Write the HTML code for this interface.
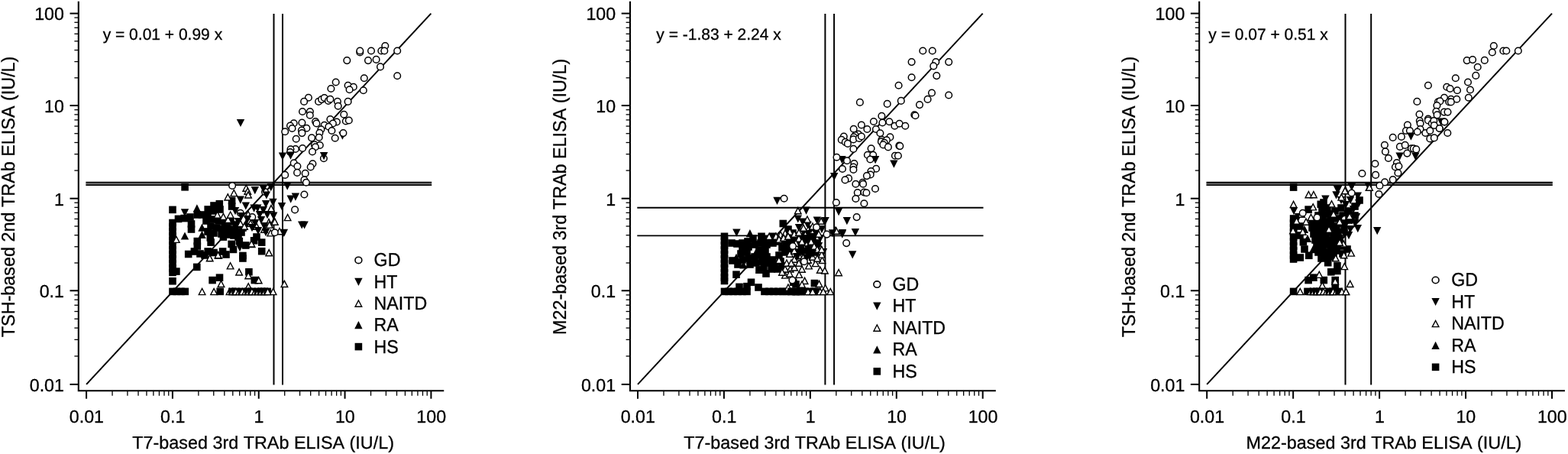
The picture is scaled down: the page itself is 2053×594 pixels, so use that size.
<!DOCTYPE html>
<html lang="en"><head><meta charset="utf-8"><title>TRAb ELISA comparison</title>
<style>
html,body{margin:0;padding:0;background:#fff;}
body{width:2053px;height:594px;overflow:hidden;}
svg{display:block;font-family:"Liberation Sans", sans-serif;fill:#000;font-kerning:none;text-rendering:geometricPrecision;}
text{stroke:#000;stroke-width:0.3px;}
</style></head><body>
<svg width="2053" height="594" viewBox="0 0 2053 594">
<rect width="2053" height="594" fill="#fff"/>
<g id="panel1">
<line x1="112.40" y1="240.35" x2="565.20" y2="240.35" stroke="#777" stroke-width="2.2" />
<line x1="112.40" y1="238.60" x2="565.20" y2="238.60" stroke="#000" stroke-width="1.9" />
<line x1="112.40" y1="242.10" x2="565.20" y2="242.10" stroke="#000" stroke-width="1.9" />
<line x1="358.50" y1="18.00" x2="358.50" y2="503.60" stroke="#000" stroke-width="2.0" />
<line x1="370.00" y1="18.00" x2="370.00" y2="503.60" stroke="#000" stroke-width="2.0" />
<line x1="113.10" y1="502.90" x2="564.40" y2="17.60" stroke="#000" stroke-width="2.0" />
<rect x="221.2" y="269.6" width="9.6" height="9.6" fill="#000"/>
<rect x="221.2" y="286.7" width="9.6" height="9.6" fill="#000"/>
<rect x="221.2" y="292.2" width="9.6" height="9.6" fill="#000"/>
<rect x="221.2" y="298.2" width="9.6" height="9.6" fill="#000"/>
<rect x="221.2" y="304.2" width="9.6" height="9.6" fill="#000"/>
<rect x="221.2" y="310.2" width="9.6" height="9.6" fill="#000"/>
<rect x="221.2" y="316.2" width="9.6" height="9.6" fill="#000"/>
<rect x="221.2" y="322.2" width="9.6" height="9.6" fill="#000"/>
<rect x="221.2" y="328.2" width="9.6" height="9.6" fill="#000"/>
<rect x="221.2" y="334.2" width="9.6" height="9.6" fill="#000"/>
<rect x="221.2" y="340.2" width="9.6" height="9.6" fill="#000"/>
<rect x="221.2" y="346.2" width="9.6" height="9.6" fill="#000"/>
<rect x="221.2" y="351.7" width="9.6" height="9.6" fill="#000"/>
<rect x="221.2" y="363.0" width="9.6" height="9.6" fill="#000"/>
<rect x="221.2" y="376.6" width="9.6" height="9.6" fill="#000"/>
<rect x="226.7" y="376.6" width="9.6" height="9.6" fill="#000"/>
<rect x="232.1" y="376.6" width="9.6" height="9.6" fill="#000"/>
<rect x="237.5" y="376.6" width="9.6" height="9.6" fill="#000"/>
<rect x="226.1" y="350.3" width="9.6" height="9.6" fill="#000"/>
<rect x="237.3" y="240.0" width="9.6" height="9.6" fill="#000"/>
<rect x="267.4" y="269.2" width="9.6" height="9.6" fill="#000"/>
<rect x="275.2" y="264.2" width="9.6" height="9.6" fill="#000"/>
<rect x="282.5" y="261.9" width="9.6" height="9.6" fill="#000"/>
<rect x="298.8" y="257.6" width="9.6" height="9.6" fill="#000"/>
<rect x="298.8" y="265.2" width="9.6" height="9.6" fill="#000"/>
<rect x="275.2" y="271.2" width="9.6" height="9.6" fill="#000"/>
<rect x="283.2" y="269.2" width="9.6" height="9.6" fill="#000"/>
<rect x="228.7" y="281.6" width="9.6" height="9.6" fill="#000"/>
<rect x="236.4" y="280.8" width="9.6" height="9.6" fill="#000"/>
<rect x="244.2" y="279.2" width="9.6" height="9.6" fill="#000"/>
<rect x="253.5" y="276.2" width="9.6" height="9.6" fill="#000"/>
<rect x="259.7" y="276.2" width="9.6" height="9.6" fill="#000"/>
<rect x="267.2" y="277.2" width="9.6" height="9.6" fill="#000"/>
<rect x="265.2" y="284.2" width="9.6" height="9.6" fill="#000"/>
<rect x="273.2" y="282.2" width="9.6" height="9.6" fill="#000"/>
<rect x="281.2" y="284.2" width="9.6" height="9.6" fill="#000"/>
<rect x="289.2" y="287.2" width="9.6" height="9.6" fill="#000"/>
<rect x="297.2" y="285.2" width="9.6" height="9.6" fill="#000"/>
<rect x="305.2" y="289.2" width="9.6" height="9.6" fill="#000"/>
<rect x="313.2" y="293.2" width="9.6" height="9.6" fill="#000"/>
<rect x="271.2" y="291.2" width="9.6" height="9.6" fill="#000"/>
<rect x="279.2" y="293.2" width="9.6" height="9.6" fill="#000"/>
<rect x="287.2" y="295.2" width="9.6" height="9.6" fill="#000"/>
<rect x="295.2" y="295.2" width="9.6" height="9.6" fill="#000"/>
<rect x="303.2" y="297.2" width="9.6" height="9.6" fill="#000"/>
<rect x="311.2" y="299.2" width="9.6" height="9.6" fill="#000"/>
<rect x="267.2" y="298.2" width="9.6" height="9.6" fill="#000"/>
<rect x="275.2" y="300.2" width="9.6" height="9.6" fill="#000"/>
<rect x="285.2" y="301.2" width="9.6" height="9.6" fill="#000"/>
<rect x="293.2" y="302.2" width="9.6" height="9.6" fill="#000"/>
<rect x="301.2" y="303.2" width="9.6" height="9.6" fill="#000"/>
<rect x="307.2" y="305.2" width="9.6" height="9.6" fill="#000"/>
<rect x="245.7" y="288.2" width="9.6" height="9.6" fill="#000"/>
<rect x="245.7" y="295.2" width="9.6" height="9.6" fill="#000"/>
<rect x="253.5" y="310.8" width="9.6" height="9.6" fill="#000"/>
<rect x="253.5" y="317.2" width="9.6" height="9.6" fill="#000"/>
<rect x="270.5" y="306.1" width="9.6" height="9.6" fill="#000"/>
<rect x="271.3" y="312.3" width="9.6" height="9.6" fill="#000"/>
<rect x="287.6" y="305.3" width="9.6" height="9.6" fill="#000"/>
<rect x="298.4" y="314.6" width="9.6" height="9.6" fill="#000"/>
<rect x="308.5" y="310.8" width="9.6" height="9.6" fill="#000"/>
<rect x="300.7" y="321.6" width="9.6" height="9.6" fill="#000"/>
<rect x="317.0" y="316.2" width="9.6" height="9.6" fill="#000"/>
<rect x="327.8" y="310.0" width="9.6" height="9.6" fill="#000"/>
<rect x="337.9" y="312.3" width="9.6" height="9.6" fill="#000"/>
<rect x="331.2" y="305.2" width="9.6" height="9.6" fill="#000"/>
<rect x="337.9" y="323.9" width="9.6" height="9.6" fill="#000"/>
<rect x="313.1" y="329.7" width="9.6" height="9.6" fill="#000"/>
<rect x="313.1" y="333.2" width="9.6" height="9.6" fill="#000"/>
<rect x="241.9" y="327.7" width="9.6" height="9.6" fill="#000"/>
<rect x="249.6" y="324.2" width="9.6" height="9.6" fill="#000"/>
<rect x="257.2" y="327.2" width="9.6" height="9.6" fill="#000"/>
<rect x="263.2" y="329.2" width="9.6" height="9.6" fill="#000"/>
<rect x="267.4" y="324.2" width="9.6" height="9.6" fill="#000"/>
<rect x="275.2" y="325.7" width="9.6" height="9.6" fill="#000"/>
<rect x="286.8" y="324.2" width="9.6" height="9.6" fill="#000"/>
<rect x="291.2" y="328.2" width="9.6" height="9.6" fill="#000"/>
<rect x="253.0" y="344.6" width="9.6" height="9.6" fill="#000"/>
<rect x="273.3" y="361.8" width="9.6" height="9.6" fill="#000"/>
<rect x="282.7" y="358.4" width="9.6" height="9.6" fill="#000"/>
<rect x="321.1" y="351.0" width="9.6" height="9.6" fill="#000"/>
<rect x="328.5" y="361.8" width="9.6" height="9.6" fill="#000"/>
<rect x="283.4" y="376.6" width="9.6" height="9.6" fill="#000"/>
<path d="M252.7 277.5h10.4l-5.2 -10.2z" fill="#000"/>
<path d="M236.8 313.6h10.4l-5.2 -10.2z" fill="#000"/>
<path d="M259.3 302.7h10.4l-5.2 -10.2z" fill="#000"/>
<path d="M259.3 312.0h10.4l-5.2 -10.2z" fill="#000"/>
<path d="M294.8 301.0h10.4l-5.2 -10.2z" fill="#000"/>
<path d="M316.8 297.0h10.4l-5.2 -10.2z" fill="#000"/>
<path d="M302.0 256.6h8.6l-4.3 -8.2z" fill="#fff" stroke="#000" stroke-width="1.4"/>
<path d="M294.0 262.0h8.6l-4.3 -8.2z" fill="#fff" stroke="#000" stroke-width="1.4"/>
<path d="M318.0 250.2h8.6l-4.3 -8.2z" fill="#fff" stroke="#000" stroke-width="1.4"/>
<path d="M320.0 254.2h8.6l-4.3 -8.2z" fill="#fff" stroke="#000" stroke-width="1.4"/>
<path d="M320.7 259.0h8.6l-4.3 -8.2z" fill="#fff" stroke="#000" stroke-width="1.4"/>
<path d="M350.7 276.8h8.6l-4.3 -8.2z" fill="#fff" stroke="#000" stroke-width="1.4"/>
<path d="M354.7 293.0h8.6l-4.3 -8.2z" fill="#fff" stroke="#000" stroke-width="1.4"/>
<path d="M347.7 294.7h8.6l-4.3 -8.2z" fill="#fff" stroke="#000" stroke-width="1.4"/>
<path d="M372.3 288.6h8.6l-4.3 -8.2z" fill="#fff" stroke="#000" stroke-width="1.4"/>
<path d="M280.3 285.2h8.6l-4.3 -8.2z" fill="#fff" stroke="#000" stroke-width="1.4"/>
<path d="M288.1 287.5h8.6l-4.3 -8.2z" fill="#fff" stroke="#000" stroke-width="1.4"/>
<path d="M294.3 291.4h8.6l-4.3 -8.2z" fill="#fff" stroke="#000" stroke-width="1.4"/>
<path d="M297.4 285.2h8.6l-4.3 -8.2z" fill="#fff" stroke="#000" stroke-width="1.4"/>
<path d="M320.6 284.4h8.6l-4.3 -8.2z" fill="#fff" stroke="#000" stroke-width="1.4"/>
<path d="M310.5 296.5h8.6l-4.3 -8.2z" fill="#fff" stroke="#000" stroke-width="1.4"/>
<path d="M348.5 298.1h8.6l-4.3 -8.2z" fill="#fff" stroke="#000" stroke-width="1.4"/>
<path d="M355.5 294.2h8.6l-4.3 -8.2z" fill="#fff" stroke="#000" stroke-width="1.4"/>
<path d="M361.7 306.7h8.6l-4.3 -8.2z" fill="#fff" stroke="#000" stroke-width="1.4"/>
<path d="M350.0 308.9h8.6l-4.3 -8.2z" fill="#fff" stroke="#000" stroke-width="1.4"/>
<path d="M226.5 317.4h8.6l-4.3 -8.2z" fill="#fff" stroke="#000" stroke-width="1.4"/>
<path d="M325.2 323.6h8.6l-4.3 -8.2z" fill="#fff" stroke="#000" stroke-width="1.4"/>
<path d="M281.9 338.4h8.6l-4.3 -8.2z" fill="#fff" stroke="#000" stroke-width="1.4"/>
<path d="M260.3 385.6h8.6l-4.3 -8.2z" fill="#fff" stroke="#000" stroke-width="1.4"/>
<path d="M275.8 385.6h8.6l-4.3 -8.2z" fill="#fff" stroke="#000" stroke-width="1.4"/>
<path d="M353.3 385.6h8.6l-4.3 -8.2z" fill="#fff" stroke="#000" stroke-width="1.4"/>
<path d="M368.1 375.5h8.6l-4.3 -8.2z" fill="#fff" stroke="#000" stroke-width="1.4"/>
<path d="M320.9 378.9h8.6l-4.3 -8.2z" fill="#fff" stroke="#000" stroke-width="1.4"/>
<path d="M285.2 375.5h8.6l-4.3 -8.2z" fill="#fff" stroke="#000" stroke-width="1.4"/>
<path d="M320.9 364.7h8.6l-4.3 -8.2z" fill="#fff" stroke="#000" stroke-width="1.4"/>
<path d="M334.4 370.8h8.6l-4.3 -8.2z" fill="#fff" stroke="#000" stroke-width="1.4"/>
<path d="M308.8 360.0h8.6l-4.3 -8.2z" fill="#fff" stroke="#000" stroke-width="1.4"/>
<path d="M297.3 351.9h8.6l-4.3 -8.2z" fill="#fff" stroke="#000" stroke-width="1.4"/>
<path d="M347.9 334.8h8.6l-4.3 -8.2z" fill="#fff" stroke="#000" stroke-width="1.4"/>
<path d="M270.4 341.8h8.6l-4.3 -8.2z" fill="#fff" stroke="#000" stroke-width="1.4"/>
<path d="M281.2 337.8h8.6l-4.3 -8.2z" fill="#fff" stroke="#000" stroke-width="1.4"/>
<path d="M325.0 323.0h8.6l-4.3 -8.2z" fill="#fff" stroke="#000" stroke-width="1.4"/>
<path d="M315.7 300.2h8.6l-4.3 -8.2z" fill="#fff" stroke="#000" stroke-width="1.4"/>
<path d="M323.7 296.2h8.6l-4.3 -8.2z" fill="#fff" stroke="#000" stroke-width="1.4"/>
<path d="M331.7 300.2h8.6l-4.3 -8.2z" fill="#fff" stroke="#000" stroke-width="1.4"/>
<path d="M341.7 304.2h8.6l-4.3 -8.2z" fill="#fff" stroke="#000" stroke-width="1.4"/>
<circle cx="314.8" cy="278.7" r="4.3" fill="#fff" stroke="#000" stroke-width="1.5"/>
<circle cx="330.3" cy="284.1" r="4.3" fill="#fff" stroke="#000" stroke-width="1.5"/>
<circle cx="347.0" cy="251.0" r="4.3" fill="#fff" stroke="#000" stroke-width="1.5"/>
<path d="M328.6 244.0h10.4l-5.2 10.2z" fill="#000"/>
<path d="M339.6 242.0h10.4l-5.2 10.2z" fill="#000"/>
<path d="M349.6 240.0h10.4l-5.2 10.2z" fill="#000"/>
<path d="M343.7 250.4h10.4l-5.2 10.2z" fill="#000"/>
<path d="M352.2 259.7h10.4l-5.2 10.2z" fill="#000"/>
<path d="M342.9 262.0h10.4l-5.2 10.2z" fill="#000"/>
<path d="M363.8 265.1h10.4l-5.2 10.2z" fill="#000"/>
<path d="M353.0 277.5h10.4l-5.2 10.2z" fill="#000"/>
<path d="M236.8 273.3h10.4l-5.2 10.2z" fill="#000"/>
<path d="M309.6 256.6h10.4l-5.2 10.2z" fill="#000"/>
<path d="M316.6 264.4h10.4l-5.2 10.2z" fill="#000"/>
<path d="M327.4 267.5h10.4l-5.2 10.2z" fill="#000"/>
<path d="M332.1 267.5h10.4l-5.2 10.2z" fill="#000"/>
<path d="M339.6 270.0h10.4l-5.2 10.2z" fill="#000"/>
<path d="M334.8 276.0h10.4l-5.2 10.2z" fill="#000"/>
<path d="M366.7 299.7h10.4l-5.2 10.2z" fill="#000"/>
<path d="M308.8 319.0h10.4l-5.2 10.2z" fill="#000"/>
<path d="M302.8 271.0h10.4l-5.2 10.2z" fill="#000"/>
<path d="M310.8 278.0h10.4l-5.2 10.2z" fill="#000"/>
<path d="M318.8 282.0h10.4l-5.2 10.2z" fill="#000"/>
<path d="M328.8 287.0h10.4l-5.2 10.2z" fill="#000"/>
<path d="M336.8 283.0h10.4l-5.2 10.2z" fill="#000"/>
<path d="M344.8 276.0h10.4l-5.2 10.2z" fill="#000"/>
<path d="M340.8 291.0h10.4l-5.2 10.2z" fill="#000"/>
<path d="M324.8 293.0h10.4l-5.2 10.2z" fill="#000"/>
<path d="M332.8 297.0h10.4l-5.2 10.2z" fill="#000"/>
<path d="M342.8 299.0h10.4l-5.2 10.2z" fill="#000"/>
<path d="M306.8 285.0h10.4l-5.2 10.2z" fill="#000"/>
<circle cx="304.1" cy="243.0" r="4.3" fill="#fff" stroke="#000" stroke-width="1.5"/>
<circle cx="359.8" cy="304.3" r="4.3" fill="#fff" stroke="#000" stroke-width="1.5"/>
<circle cx="504.3" cy="60.0" r="4.3" fill="#fff" stroke="#000" stroke-width="1.5"/>
<circle cx="471.3" cy="68.5" r="4.3" fill="#fff" stroke="#000" stroke-width="1.5"/>
<circle cx="471.3" cy="66.5" r="4.3" fill="#fff" stroke="#000" stroke-width="1.5"/>
<circle cx="486.0" cy="66.5" r="4.3" fill="#fff" stroke="#000" stroke-width="1.5"/>
<circle cx="499.3" cy="66.5" r="4.3" fill="#fff" stroke="#000" stroke-width="1.5"/>
<circle cx="503.3" cy="66.5" r="4.3" fill="#fff" stroke="#000" stroke-width="1.5"/>
<circle cx="520.2" cy="66.5" r="4.3" fill="#fff" stroke="#000" stroke-width="1.5"/>
<circle cx="454.3" cy="79.1" r="4.3" fill="#fff" stroke="#000" stroke-width="1.5"/>
<circle cx="482.0" cy="79.1" r="4.3" fill="#fff" stroke="#000" stroke-width="1.5"/>
<circle cx="492.6" cy="77.9" r="4.3" fill="#fff" stroke="#000" stroke-width="1.5"/>
<circle cx="498.0" cy="87.4" r="4.3" fill="#fff" stroke="#000" stroke-width="1.5"/>
<circle cx="520.2" cy="99.2" r="4.3" fill="#fff" stroke="#000" stroke-width="1.5"/>
<circle cx="476.8" cy="102.2" r="4.3" fill="#fff" stroke="#000" stroke-width="1.5"/>
<circle cx="439.7" cy="107.5" r="4.3" fill="#fff" stroke="#000" stroke-width="1.5"/>
<circle cx="433.4" cy="116.0" r="4.3" fill="#fff" stroke="#000" stroke-width="1.5"/>
<circle cx="455.6" cy="111.8" r="4.3" fill="#fff" stroke="#000" stroke-width="1.5"/>
<circle cx="462.8" cy="113.8" r="4.3" fill="#fff" stroke="#000" stroke-width="1.5"/>
<circle cx="457.6" cy="117.2" r="4.3" fill="#fff" stroke="#000" stroke-width="1.5"/>
<circle cx="475.8" cy="118.2" r="4.3" fill="#fff" stroke="#000" stroke-width="1.5"/>
<circle cx="403.9" cy="127.8" r="4.3" fill="#fff" stroke="#000" stroke-width="1.5"/>
<circle cx="398.1" cy="132.9" r="4.3" fill="#fff" stroke="#000" stroke-width="1.5"/>
<circle cx="417.1" cy="132.9" r="4.3" fill="#fff" stroke="#000" stroke-width="1.5"/>
<circle cx="421.1" cy="130.1" r="4.3" fill="#fff" stroke="#000" stroke-width="1.5"/>
<circle cx="424.7" cy="128.0" r="4.3" fill="#fff" stroke="#000" stroke-width="1.5"/>
<circle cx="429.9" cy="131.9" r="4.3" fill="#fff" stroke="#000" stroke-width="1.5"/>
<circle cx="432.4" cy="129.7" r="4.3" fill="#fff" stroke="#000" stroke-width="1.5"/>
<circle cx="441.9" cy="132.7" r="4.3" fill="#fff" stroke="#000" stroke-width="1.5"/>
<circle cx="442.7" cy="138.8" r="4.3" fill="#fff" stroke="#000" stroke-width="1.5"/>
<circle cx="455.6" cy="132.9" r="4.3" fill="#fff" stroke="#000" stroke-width="1.5"/>
<circle cx="396.0" cy="146.0" r="4.3" fill="#fff" stroke="#000" stroke-width="1.5"/>
<circle cx="405.9" cy="146.0" r="4.3" fill="#fff" stroke="#000" stroke-width="1.5"/>
<circle cx="405.8" cy="150.7" r="4.3" fill="#fff" stroke="#000" stroke-width="1.5"/>
<circle cx="450.3" cy="149.8" r="4.3" fill="#fff" stroke="#000" stroke-width="1.5"/>
<circle cx="432.4" cy="156.0" r="4.3" fill="#fff" stroke="#000" stroke-width="1.5"/>
<circle cx="452.8" cy="158.5" r="4.3" fill="#fff" stroke="#000" stroke-width="1.5"/>
<circle cx="456.8" cy="157.5" r="4.3" fill="#fff" stroke="#000" stroke-width="1.5"/>
<circle cx="440.9" cy="159.5" r="4.3" fill="#fff" stroke="#000" stroke-width="1.5"/>
<circle cx="435.9" cy="161.5" r="4.3" fill="#fff" stroke="#000" stroke-width="1.5"/>
<circle cx="413.1" cy="159.0" r="4.3" fill="#fff" stroke="#000" stroke-width="1.5"/>
<circle cx="414.4" cy="161.5" r="4.3" fill="#fff" stroke="#000" stroke-width="1.5"/>
<circle cx="395.4" cy="160.5" r="4.3" fill="#fff" stroke="#000" stroke-width="1.5"/>
<circle cx="384.7" cy="161.2" r="4.3" fill="#fff" stroke="#000" stroke-width="1.5"/>
<circle cx="380.0" cy="164.5" r="4.3" fill="#fff" stroke="#000" stroke-width="1.5"/>
<circle cx="382.5" cy="168.0" r="4.3" fill="#fff" stroke="#000" stroke-width="1.5"/>
<circle cx="424.7" cy="163.8" r="4.3" fill="#fff" stroke="#000" stroke-width="1.5"/>
<circle cx="430.4" cy="165.8" r="4.3" fill="#fff" stroke="#000" stroke-width="1.5"/>
<circle cx="401.4" cy="167.8" r="4.3" fill="#fff" stroke="#000" stroke-width="1.5"/>
<circle cx="394.9" cy="170.5" r="4.3" fill="#fff" stroke="#000" stroke-width="1.5"/>
<circle cx="395.4" cy="174.1" r="4.3" fill="#fff" stroke="#000" stroke-width="1.5"/>
<circle cx="373.2" cy="172.2" r="4.3" fill="#fff" stroke="#000" stroke-width="1.5"/>
<circle cx="420.4" cy="169.2" r="4.3" fill="#fff" stroke="#000" stroke-width="1.5"/>
<circle cx="418.4" cy="173.9" r="4.3" fill="#fff" stroke="#000" stroke-width="1.5"/>
<circle cx="434.4" cy="171.0" r="4.3" fill="#fff" stroke="#000" stroke-width="1.5"/>
<circle cx="438.7" cy="180.7" r="4.3" fill="#fff" stroke="#000" stroke-width="1.5"/>
<circle cx="417.7" cy="179.7" r="4.3" fill="#fff" stroke="#000" stroke-width="1.5"/>
<circle cx="408.1" cy="180.4" r="4.3" fill="#fff" stroke="#000" stroke-width="1.5"/>
<circle cx="387.7" cy="181.7" r="4.3" fill="#fff" stroke="#000" stroke-width="1.5"/>
<circle cx="411.9" cy="189.4" r="4.3" fill="#fff" stroke="#000" stroke-width="1.5"/>
<circle cx="418.8" cy="190.0" r="4.3" fill="#fff" stroke="#000" stroke-width="1.5"/>
<circle cx="412.9" cy="192.3" r="4.3" fill="#fff" stroke="#000" stroke-width="1.5"/>
<circle cx="396.1" cy="194.0" r="4.3" fill="#fff" stroke="#000" stroke-width="1.5"/>
<circle cx="386.9" cy="195.0" r="4.3" fill="#fff" stroke="#000" stroke-width="1.5"/>
<circle cx="380.5" cy="195.2" r="4.3" fill="#fff" stroke="#000" stroke-width="1.5"/>
<circle cx="380.0" cy="199.0" r="4.3" fill="#fff" stroke="#000" stroke-width="1.5"/>
<circle cx="409.0" cy="198.5" r="4.3" fill="#fff" stroke="#000" stroke-width="1.5"/>
<circle cx="423.9" cy="207.2" r="4.3" fill="#fff" stroke="#000" stroke-width="1.5"/>
<circle cx="384.7" cy="213.2" r="4.3" fill="#fff" stroke="#000" stroke-width="1.5"/>
<circle cx="389.4" cy="217.5" r="4.3" fill="#fff" stroke="#000" stroke-width="1.5"/>
<circle cx="409.4" cy="214.2" r="4.3" fill="#fff" stroke="#000" stroke-width="1.5"/>
<circle cx="406.7" cy="218.5" r="4.3" fill="#fff" stroke="#000" stroke-width="1.5"/>
<circle cx="389.1" cy="225.9" r="4.3" fill="#fff" stroke="#000" stroke-width="1.5"/>
<circle cx="399.7" cy="226.9" r="4.3" fill="#fff" stroke="#000" stroke-width="1.5"/>
<circle cx="373.2" cy="228.9" r="4.3" fill="#fff" stroke="#000" stroke-width="1.5"/>
<circle cx="398.4" cy="235.4" r="4.3" fill="#fff" stroke="#000" stroke-width="1.5"/>
<circle cx="400.9" cy="238.8" r="4.3" fill="#fff" stroke="#000" stroke-width="1.5"/>
<circle cx="398.4" cy="254.5" r="4.3" fill="#fff" stroke="#000" stroke-width="1.5"/>
<circle cx="386.1" cy="274.4" r="4.3" fill="#fff" stroke="#000" stroke-width="1.5"/>
<path d="M371.0 238.5h10.4l-5.2 10.2z" fill="#000"/>
<path d="M381.7 252.5h10.4l-5.2 10.2z" fill="#000"/>
<path d="M375.5 255.5h10.4l-5.2 10.2z" fill="#000"/>
<path d="M390.0 289.4h10.4l-5.2 10.2z" fill="#000"/>
<path d="M393.4 289.4h10.4l-5.2 10.2z" fill="#000"/>
<path d="M364.8 199.5h10.4l-5.2 10.2z" fill="#000"/>
<path d="M375.3 198.5h10.4l-5.2 10.2z" fill="#000"/>
<path d="M418.9 199.0h10.4l-5.2 10.2z" fill="#000"/>
<path d="M443.2 172.5h10.4l-5.2 10.2z" fill="#000"/>
<path d="M309.8 155.9h10.4l-5.2 10.2z" fill="#000"/>
<circle cx="449.4" cy="174.1" r="4.3" fill="#fff" stroke="#000" stroke-width="1.5"/>
<path d="M296.2 385.6h8.6l-4.3 -8.2z" fill="#fff" stroke="#000" stroke-width="1.4"/>
<rect x="299.1" y="376.6" width="9.6" height="9.6" fill="#000"/>
<path d="M300.4 385.6h8.6l-4.3 -8.2z" fill="#fff" stroke="#000" stroke-width="1.4"/>
<rect x="303.3" y="376.6" width="9.6" height="9.6" fill="#000"/>
<path d="M304.6 385.6h8.6l-4.3 -8.2z" fill="#fff" stroke="#000" stroke-width="1.4"/>
<path d="M308.8 385.6h8.6l-4.3 -8.2z" fill="#fff" stroke="#000" stroke-width="1.4"/>
<rect x="311.7" y="376.6" width="9.6" height="9.6" fill="#000"/>
<path d="M313.0 385.6h8.6l-4.3 -8.2z" fill="#fff" stroke="#000" stroke-width="1.4"/>
<path d="M317.2 385.6h8.6l-4.3 -8.2z" fill="#fff" stroke="#000" stroke-width="1.4"/>
<rect x="320.1" y="376.6" width="9.6" height="9.6" fill="#000"/>
<path d="M321.4 385.6h8.6l-4.3 -8.2z" fill="#fff" stroke="#000" stroke-width="1.4"/>
<rect x="324.3" y="376.6" width="9.6" height="9.6" fill="#000"/>
<path d="M325.6 385.6h8.6l-4.3 -8.2z" fill="#fff" stroke="#000" stroke-width="1.4"/>
<path d="M329.8 385.6h8.6l-4.3 -8.2z" fill="#fff" stroke="#000" stroke-width="1.4"/>
<rect x="332.7" y="376.6" width="9.6" height="9.6" fill="#000"/>
<path d="M334.0 385.6h8.6l-4.3 -8.2z" fill="#fff" stroke="#000" stroke-width="1.4"/>
<rect x="336.9" y="376.6" width="9.6" height="9.6" fill="#000"/>
<path d="M338.2 385.6h8.6l-4.3 -8.2z" fill="#fff" stroke="#000" stroke-width="1.4"/>
<rect x="341.1" y="376.6" width="9.6" height="9.6" fill="#000"/>
<path d="M342.4 385.6h8.6l-4.3 -8.2z" fill="#fff" stroke="#000" stroke-width="1.4"/>
<rect x="345.3" y="376.6" width="9.6" height="9.6" fill="#000"/>
<path d="M346.2 385.6h8.6l-4.3 -8.2z" fill="#fff" stroke="#000" stroke-width="1.4"/>
<path d="M102.80 2.7V511.2H580.20" fill="none" stroke="#000" stroke-width="2.1" stroke-linecap="square"/>
<line x1="113.10" y1="511.20" x2="113.10" y2="521.70" stroke="#000" stroke-width="2.0" />
<line x1="102.80" y1="502.90" x2="91.50" y2="502.90" stroke="#000" stroke-width="2.0" />
<text x="113.40" y="552.50" text-anchor="middle" font-size="23.2" >0.01</text>
<text x="83.90" y="511.70" text-anchor="end" font-size="23.2" >0.01</text>
<line x1="147.06" y1="511.20" x2="147.06" y2="517.80" stroke="#000" stroke-width="1.3" />
<line x1="102.80" y1="465.99" x2="97.40" y2="465.99" stroke="#000" stroke-width="1.3" />
<line x1="166.93" y1="511.20" x2="166.93" y2="517.80" stroke="#000" stroke-width="1.3" />
<line x1="102.80" y1="444.40" x2="97.40" y2="444.40" stroke="#000" stroke-width="1.3" />
<line x1="181.03" y1="511.20" x2="181.03" y2="517.80" stroke="#000" stroke-width="1.3" />
<line x1="102.80" y1="429.09" x2="97.40" y2="429.09" stroke="#000" stroke-width="1.3" />
<line x1="191.96" y1="511.20" x2="191.96" y2="517.80" stroke="#000" stroke-width="1.3" />
<line x1="102.80" y1="417.21" x2="97.40" y2="417.21" stroke="#000" stroke-width="1.3" />
<line x1="200.89" y1="511.20" x2="200.89" y2="517.80" stroke="#000" stroke-width="1.3" />
<line x1="102.80" y1="407.50" x2="97.40" y2="407.50" stroke="#000" stroke-width="1.3" />
<line x1="208.45" y1="511.20" x2="208.45" y2="517.80" stroke="#000" stroke-width="1.3" />
<line x1="102.80" y1="399.29" x2="97.40" y2="399.29" stroke="#000" stroke-width="1.3" />
<line x1="214.99" y1="511.20" x2="214.99" y2="517.80" stroke="#000" stroke-width="1.3" />
<line x1="102.80" y1="392.18" x2="97.40" y2="392.18" stroke="#000" stroke-width="1.3" />
<line x1="220.76" y1="511.20" x2="220.76" y2="517.80" stroke="#000" stroke-width="1.3" />
<line x1="102.80" y1="385.91" x2="97.40" y2="385.91" stroke="#000" stroke-width="1.3" />
<line x1="225.92" y1="511.20" x2="225.92" y2="521.70" stroke="#000" stroke-width="2.0" />
<line x1="102.80" y1="380.30" x2="91.50" y2="380.30" stroke="#000" stroke-width="2.0" />
<text x="226.22" y="552.50" text-anchor="middle" font-size="23.2" >0.1</text>
<text x="83.90" y="389.10" text-anchor="end" font-size="23.2" >0.1</text>
<line x1="259.89" y1="511.20" x2="259.89" y2="517.80" stroke="#000" stroke-width="1.3" />
<line x1="102.80" y1="344.00" x2="97.40" y2="344.00" stroke="#000" stroke-width="1.3" />
<line x1="279.76" y1="511.20" x2="279.76" y2="517.80" stroke="#000" stroke-width="1.3" />
<line x1="102.80" y1="322.76" x2="97.40" y2="322.76" stroke="#000" stroke-width="1.3" />
<line x1="293.85" y1="511.20" x2="293.85" y2="517.80" stroke="#000" stroke-width="1.3" />
<line x1="102.80" y1="307.69" x2="97.40" y2="307.69" stroke="#000" stroke-width="1.3" />
<line x1="304.79" y1="511.20" x2="304.79" y2="517.80" stroke="#000" stroke-width="1.3" />
<line x1="102.80" y1="296.00" x2="97.40" y2="296.00" stroke="#000" stroke-width="1.3" />
<line x1="313.72" y1="511.20" x2="313.72" y2="517.80" stroke="#000" stroke-width="1.3" />
<line x1="102.80" y1="286.45" x2="97.40" y2="286.45" stroke="#000" stroke-width="1.3" />
<line x1="321.27" y1="511.20" x2="321.27" y2="517.80" stroke="#000" stroke-width="1.3" />
<line x1="102.80" y1="278.38" x2="97.40" y2="278.38" stroke="#000" stroke-width="1.3" />
<line x1="327.82" y1="511.20" x2="327.82" y2="517.80" stroke="#000" stroke-width="1.3" />
<line x1="102.80" y1="271.39" x2="97.40" y2="271.39" stroke="#000" stroke-width="1.3" />
<line x1="333.59" y1="511.20" x2="333.59" y2="517.80" stroke="#000" stroke-width="1.3" />
<line x1="102.80" y1="265.22" x2="97.40" y2="265.22" stroke="#000" stroke-width="1.3" />
<line x1="338.75" y1="511.20" x2="338.75" y2="521.70" stroke="#000" stroke-width="2.0" />
<line x1="102.80" y1="259.70" x2="91.50" y2="259.70" stroke="#000" stroke-width="2.0" />
<text x="339.05" y="552.50" text-anchor="middle" font-size="23.2" >1</text>
<text x="83.90" y="268.50" text-anchor="end" font-size="23.2" >1</text>
<line x1="372.71" y1="511.20" x2="372.71" y2="517.80" stroke="#000" stroke-width="1.3" />
<line x1="102.80" y1="223.09" x2="97.40" y2="223.09" stroke="#000" stroke-width="1.3" />
<line x1="392.58" y1="511.20" x2="392.58" y2="517.80" stroke="#000" stroke-width="1.3" />
<line x1="102.80" y1="201.68" x2="97.40" y2="201.68" stroke="#000" stroke-width="1.3" />
<line x1="406.68" y1="511.20" x2="406.68" y2="517.80" stroke="#000" stroke-width="1.3" />
<line x1="102.80" y1="186.49" x2="97.40" y2="186.49" stroke="#000" stroke-width="1.3" />
<line x1="417.61" y1="511.20" x2="417.61" y2="517.80" stroke="#000" stroke-width="1.3" />
<line x1="102.80" y1="174.71" x2="97.40" y2="174.71" stroke="#000" stroke-width="1.3" />
<line x1="426.54" y1="511.20" x2="426.54" y2="517.80" stroke="#000" stroke-width="1.3" />
<line x1="102.80" y1="165.08" x2="97.40" y2="165.08" stroke="#000" stroke-width="1.3" />
<line x1="434.10" y1="511.20" x2="434.10" y2="517.80" stroke="#000" stroke-width="1.3" />
<line x1="102.80" y1="156.94" x2="97.40" y2="156.94" stroke="#000" stroke-width="1.3" />
<line x1="440.64" y1="511.20" x2="440.64" y2="517.80" stroke="#000" stroke-width="1.3" />
<line x1="102.80" y1="149.88" x2="97.40" y2="149.88" stroke="#000" stroke-width="1.3" />
<line x1="446.41" y1="511.20" x2="446.41" y2="517.80" stroke="#000" stroke-width="1.3" />
<line x1="102.80" y1="143.66" x2="97.40" y2="143.66" stroke="#000" stroke-width="1.3" />
<line x1="451.57" y1="511.20" x2="451.57" y2="521.70" stroke="#000" stroke-width="2.0" />
<line x1="102.80" y1="138.10" x2="91.50" y2="138.10" stroke="#000" stroke-width="2.0" />
<text x="451.87" y="552.50" text-anchor="middle" font-size="23.2" >10</text>
<text x="83.90" y="146.90" text-anchor="end" font-size="23.2" >10</text>
<line x1="485.54" y1="511.20" x2="485.54" y2="517.80" stroke="#000" stroke-width="1.3" />
<line x1="102.80" y1="101.83" x2="97.40" y2="101.83" stroke="#000" stroke-width="1.3" />
<line x1="505.41" y1="511.20" x2="505.41" y2="517.80" stroke="#000" stroke-width="1.3" />
<line x1="102.80" y1="80.61" x2="97.40" y2="80.61" stroke="#000" stroke-width="1.3" />
<line x1="519.50" y1="511.20" x2="519.50" y2="517.80" stroke="#000" stroke-width="1.3" />
<line x1="102.80" y1="65.55" x2="97.40" y2="65.55" stroke="#000" stroke-width="1.3" />
<line x1="530.44" y1="511.20" x2="530.44" y2="517.80" stroke="#000" stroke-width="1.3" />
<line x1="102.80" y1="53.87" x2="97.40" y2="53.87" stroke="#000" stroke-width="1.3" />
<line x1="539.37" y1="511.20" x2="539.37" y2="517.80" stroke="#000" stroke-width="1.3" />
<line x1="102.80" y1="44.33" x2="97.40" y2="44.33" stroke="#000" stroke-width="1.3" />
<line x1="546.92" y1="511.20" x2="546.92" y2="517.80" stroke="#000" stroke-width="1.3" />
<line x1="102.80" y1="36.27" x2="97.40" y2="36.27" stroke="#000" stroke-width="1.3" />
<line x1="553.47" y1="511.20" x2="553.47" y2="517.80" stroke="#000" stroke-width="1.3" />
<line x1="102.80" y1="29.28" x2="97.40" y2="29.28" stroke="#000" stroke-width="1.3" />
<line x1="559.24" y1="511.20" x2="559.24" y2="517.80" stroke="#000" stroke-width="1.3" />
<line x1="102.80" y1="23.11" x2="97.40" y2="23.11" stroke="#000" stroke-width="1.3" />
<line x1="564.40" y1="511.20" x2="564.40" y2="521.70" stroke="#000" stroke-width="2.0" />
<line x1="102.80" y1="17.60" x2="91.50" y2="17.60" stroke="#000" stroke-width="2.0" />
<text x="564.70" y="552.50" text-anchor="middle" font-size="23.2" >100</text>
<text x="83.90" y="26.40" text-anchor="end" font-size="23.2" >100</text>
<text transform="translate(344.65 587.0) scale(1.007 1)" text-anchor="middle" font-size="23.2">T7-based 3rd TRAb ELISA (IU/L)</text>
<text transform="translate(18.5 257.4) rotate(-90) scale(1.008 1.045)" text-anchor="middle" font-size="23.2">TSH-based 2nd TRAb ELISA (IU/L)</text>
<text x="134.70" y="52.20" text-anchor="start" font-size="21" >y = 0.01 + 0.99 x</text>
<ellipse cx="469.4" cy="340.4" rx="4.4" ry="4.2" fill="#fff" stroke="#000" stroke-width="1.6"/>
<text transform="translate(489.60 348.30) scale(1 1.05)" font-size="23.2">GD</text>
<path d="M464.2 363.7h10.4l-5.2 10.2z" fill="#000"/>
<text transform="translate(489.60 376.60) scale(1 1.05)" font-size="23.2">HT</text>
<path d="M465.1 401.2h8.6l-4.3 -8.2z" fill="#fff" stroke="#000" stroke-width="1.4"/>
<text transform="translate(489.60 404.90) scale(1 1.05)" font-size="23.2">NAITD</text>
<path d="M464.2 430.3h10.4l-5.2 -10.2z" fill="#000"/>
<text transform="translate(489.60 433.20) scale(1 1.05)" font-size="23.2">RA</text>
<rect x="464.6" y="448.8" width="9.6" height="9.6" fill="#000"/>
<text transform="translate(489.60 461.50) scale(1 1.05)" font-size="23.2">HS</text>
</g>
<g id="panel2">
<line x1="834.30" y1="271.70" x2="1287.50" y2="271.70" stroke="#000" stroke-width="1.9" />
<line x1="834.30" y1="308.40" x2="1287.50" y2="308.40" stroke="#000" stroke-width="1.9" />
<line x1="1080.40" y1="18.00" x2="1080.40" y2="503.60" stroke="#000" stroke-width="2.0" />
<line x1="1092.10" y1="18.00" x2="1092.10" y2="503.60" stroke="#000" stroke-width="2.0" />
<line x1="835.00" y1="502.90" x2="1286.70" y2="17.60" stroke="#000" stroke-width="2.0" />
<rect x="943.7" y="304.5" width="9.6" height="9.6" fill="#000"/>
<rect x="943.7" y="310.2" width="9.6" height="9.6" fill="#000"/>
<rect x="943.7" y="316.2" width="9.6" height="9.6" fill="#000"/>
<rect x="943.7" y="322.2" width="9.6" height="9.6" fill="#000"/>
<rect x="943.7" y="328.2" width="9.6" height="9.6" fill="#000"/>
<rect x="943.7" y="334.2" width="9.6" height="9.6" fill="#000"/>
<rect x="943.7" y="340.2" width="9.6" height="9.6" fill="#000"/>
<rect x="943.7" y="346.2" width="9.6" height="9.6" fill="#000"/>
<rect x="943.7" y="352.2" width="9.6" height="9.6" fill="#000"/>
<rect x="943.7" y="358.2" width="9.6" height="9.6" fill="#000"/>
<rect x="943.7" y="362.7" width="9.6" height="9.6" fill="#000"/>
<rect x="943.7" y="376.6" width="9.6" height="9.6" fill="#000"/>
<rect x="949.2" y="376.6" width="9.6" height="9.6" fill="#000"/>
<rect x="955.2" y="376.6" width="9.6" height="9.6" fill="#000"/>
<rect x="961.2" y="376.6" width="9.6" height="9.6" fill="#000"/>
<rect x="967.2" y="376.6" width="9.6" height="9.6" fill="#000"/>
<rect x="973.2" y="376.6" width="9.6" height="9.6" fill="#000"/>
<rect x="996.2" y="376.6" width="9.6" height="9.6" fill="#000"/>
<rect x="1002.2" y="376.6" width="9.6" height="9.6" fill="#000"/>
<rect x="1008.2" y="376.6" width="9.6" height="9.6" fill="#000"/>
<rect x="1014.2" y="376.6" width="9.6" height="9.6" fill="#000"/>
<rect x="1020.2" y="376.6" width="9.6" height="9.6" fill="#000"/>
<rect x="1024.2" y="376.6" width="9.6" height="9.6" fill="#000"/>
<rect x="1049.2" y="376.6" width="9.6" height="9.6" fill="#000"/>
<rect x="1055.2" y="376.6" width="9.6" height="9.6" fill="#000"/>
<rect x="1061.2" y="376.6" width="9.6" height="9.6" fill="#000"/>
<rect x="1065.2" y="376.6" width="9.6" height="9.6" fill="#000"/>
<rect x="959.2" y="354.4" width="9.6" height="9.6" fill="#000"/>
<rect x="978.7" y="364.5" width="9.6" height="9.6" fill="#000"/>
<rect x="988.2" y="371.2" width="9.6" height="9.6" fill="#000"/>
<rect x="963.2" y="370.6" width="9.6" height="9.6" fill="#000"/>
<rect x="973.2" y="369.9" width="9.6" height="9.6" fill="#000"/>
<rect x="1034.0" y="364.5" width="9.6" height="9.6" fill="#000"/>
<rect x="1061.6" y="365.8" width="9.6" height="9.6" fill="#000"/>
<rect x="1020.5" y="287.7" width="9.6" height="9.6" fill="#000"/>
<rect x="1027.2" y="295.2" width="9.6" height="9.6" fill="#000"/>
<rect x="1033.2" y="300.2" width="9.6" height="9.6" fill="#000"/>
<rect x="953.2" y="313.2" width="9.6" height="9.6" fill="#000"/>
<rect x="960.2" y="314.2" width="9.6" height="9.6" fill="#000"/>
<rect x="967.2" y="313.2" width="9.6" height="9.6" fill="#000"/>
<rect x="974.2" y="311.2" width="9.6" height="9.6" fill="#000"/>
<rect x="981.2" y="307.2" width="9.6" height="9.6" fill="#000"/>
<rect x="992.2" y="304.5" width="9.6" height="9.6" fill="#000"/>
<rect x="1007.0" y="304.5" width="9.6" height="9.6" fill="#000"/>
<rect x="999.2" y="308.2" width="9.6" height="9.6" fill="#000"/>
<rect x="967.2" y="320.2" width="9.6" height="9.6" fill="#000"/>
<rect x="975.2" y="318.2" width="9.6" height="9.6" fill="#000"/>
<rect x="983.2" y="315.2" width="9.6" height="9.6" fill="#000"/>
<rect x="991.2" y="313.2" width="9.6" height="9.6" fill="#000"/>
<rect x="999.2" y="315.2" width="9.6" height="9.6" fill="#000"/>
<rect x="1007.2" y="313.2" width="9.6" height="9.6" fill="#000"/>
<rect x="1015.2" y="311.2" width="9.6" height="9.6" fill="#000"/>
<rect x="1023.2" y="309.2" width="9.6" height="9.6" fill="#000"/>
<rect x="965.2" y="327.2" width="9.6" height="9.6" fill="#000"/>
<rect x="973.2" y="325.2" width="9.6" height="9.6" fill="#000"/>
<rect x="989.2" y="322.2" width="9.6" height="9.6" fill="#000"/>
<rect x="997.2" y="323.2" width="9.6" height="9.6" fill="#000"/>
<rect x="1019.2" y="319.2" width="9.6" height="9.6" fill="#000"/>
<rect x="1025.2" y="317.2" width="9.6" height="9.6" fill="#000"/>
<rect x="1031.2" y="313.2" width="9.6" height="9.6" fill="#000"/>
<rect x="1039.2" y="311.2" width="9.6" height="9.6" fill="#000"/>
<rect x="967.2" y="335.2" width="9.6" height="9.6" fill="#000"/>
<rect x="975.2" y="333.2" width="9.6" height="9.6" fill="#000"/>
<rect x="983.2" y="331.2" width="9.6" height="9.6" fill="#000"/>
<rect x="991.2" y="329.2" width="9.6" height="9.6" fill="#000"/>
<rect x="999.2" y="331.2" width="9.6" height="9.6" fill="#000"/>
<rect x="1007.2" y="335.2" width="9.6" height="9.6" fill="#000"/>
<rect x="1015.2" y="329.2" width="9.6" height="9.6" fill="#000"/>
<rect x="1023.2" y="325.2" width="9.6" height="9.6" fill="#000"/>
<rect x="1031.2" y="321.2" width="9.6" height="9.6" fill="#000"/>
<rect x="1045.2" y="317.2" width="9.6" height="9.6" fill="#000"/>
<rect x="1053.2" y="313.2" width="9.6" height="9.6" fill="#000"/>
<rect x="1059.2" y="309.2" width="9.6" height="9.6" fill="#000"/>
<rect x="961.2" y="341.2" width="9.6" height="9.6" fill="#000"/>
<rect x="977.2" y="341.2" width="9.6" height="9.6" fill="#000"/>
<rect x="985.2" y="339.2" width="9.6" height="9.6" fill="#000"/>
<rect x="993.2" y="337.2" width="9.6" height="9.6" fill="#000"/>
<rect x="1001.2" y="339.2" width="9.6" height="9.6" fill="#000"/>
<rect x="1009.2" y="341.2" width="9.6" height="9.6" fill="#000"/>
<rect x="1017.2" y="337.2" width="9.6" height="9.6" fill="#000"/>
<rect x="1039.2" y="325.2" width="9.6" height="9.6" fill="#000"/>
<rect x="1051.2" y="323.2" width="9.6" height="9.6" fill="#000"/>
<rect x="1059.2" y="319.2" width="9.6" height="9.6" fill="#000"/>
<rect x="1065.2" y="313.2" width="9.6" height="9.6" fill="#000"/>
<rect x="954.2" y="336.2" width="9.6" height="9.6" fill="#000"/>
<rect x="989.2" y="348.2" width="9.6" height="9.6" fill="#000"/>
<rect x="998.2" y="353.2" width="9.6" height="9.6" fill="#000"/>
<rect x="1005.2" y="347.2" width="9.6" height="9.6" fill="#000"/>
<rect x="1013.2" y="347.2" width="9.6" height="9.6" fill="#000"/>
<rect x="995.2" y="345.2" width="9.6" height="9.6" fill="#000"/>
<rect x="1019.2" y="343.2" width="9.6" height="9.6" fill="#000"/>
<rect x="1035.2" y="307.2" width="9.6" height="9.6" fill="#000"/>
<rect x="1043.2" y="305.2" width="9.6" height="9.6" fill="#000"/>
<rect x="1051.2" y="307.2" width="9.6" height="9.6" fill="#000"/>
<rect x="1057.2" y="305.2" width="9.6" height="9.6" fill="#000"/>
<rect x="1063.2" y="325.2" width="9.6" height="9.6" fill="#000"/>
<rect x="1055.2" y="329.2" width="9.6" height="9.6" fill="#000"/>
<path d="M976.7 310.3h10.4l-5.2 -10.2z" fill="#000"/>
<path d="M968.2 351.4h10.4l-5.2 -10.2z" fill="#000"/>
<path d="M989.1 358.1h10.4l-5.2 -10.2z" fill="#000"/>
<path d="M958.8 342.0h10.4l-5.2 -10.2z" fill="#000"/>
<path d="M984.8 335.0h10.4l-5.2 -10.2z" fill="#000"/>
<path d="M994.8 327.0h10.4l-5.2 -10.2z" fill="#000"/>
<path d="M959.2 299.6h10.4l-5.2 10.2z" fill="#000"/>
<path d="M1012.3 257.8h10.4l-5.2 10.2z" fill="#000"/>
<path d="M1050.4 270.6h10.4l-5.2 10.2z" fill="#000"/>
<path d="M1039.6 281.4h10.4l-5.2 10.2z" fill="#000"/>
<path d="M1045.7 285.4h10.4l-5.2 10.2z" fill="#000"/>
<path d="M1052.4 289.5h10.4l-5.2 10.2z" fill="#000"/>
<path d="M1064.6 283.4h10.4l-5.2 10.2z" fill="#000"/>
<path d="M1075.4 284.1h10.4l-5.2 10.2z" fill="#000"/>
<path d="M1056.8 295.0h10.4l-5.2 10.2z" fill="#000"/>
<path d="M1062.8 300.0h10.4l-5.2 10.2z" fill="#000"/>
<path d="M1040.8 293.0h10.4l-5.2 10.2z" fill="#000"/>
<path d="M1046.8 299.0h10.4l-5.2 10.2z" fill="#000"/>
<path d="M1068.8 307.0h10.4l-5.2 10.2z" fill="#000"/>
<path d="M1060.8 305.0h10.4l-5.2 10.2z" fill="#000"/>
<path d="M1052.8 301.0h10.4l-5.2 10.2z" fill="#000"/>
<path d="M1034.8 317.0h10.4l-5.2 10.2z" fill="#000"/>
<path d="M1042.8 321.0h10.4l-5.2 10.2z" fill="#000"/>
<path d="M1066.8 317.0h10.4l-5.2 10.2z" fill="#000"/>
<path d="M1070.8 295.0h10.4l-5.2 10.2z" fill="#000"/>
<path d="M1028.8 305.0h10.4l-5.2 10.2z" fill="#000"/>
<path d="M1022.8 315.0h10.4l-5.2 10.2z" fill="#000"/>
<path d="M1048.8 313.0h10.4l-5.2 10.2z" fill="#000"/>
<path d="M1072.8 325.0h10.4l-5.2 10.2z" fill="#000"/>
<path d="M1040.5 279.8h8.6l-4.3 -8.2z" fill="#fff" stroke="#000" stroke-width="1.4"/>
<path d="M1052.7 291.2h8.6l-4.3 -8.2z" fill="#fff" stroke="#000" stroke-width="1.4"/>
<path d="M1070.9 293.3h8.6l-4.3 -8.2z" fill="#fff" stroke="#000" stroke-width="1.4"/>
<path d="M1002.8 313.5h8.6l-4.3 -8.2z" fill="#fff" stroke="#000" stroke-width="1.4"/>
<path d="M1011.7 313.2h8.6l-4.3 -8.2z" fill="#fff" stroke="#000" stroke-width="1.4"/>
<path d="M1017.7 311.2h8.6l-4.3 -8.2z" fill="#fff" stroke="#000" stroke-width="1.4"/>
<path d="M1023.7 309.2h8.6l-4.3 -8.2z" fill="#fff" stroke="#000" stroke-width="1.4"/>
<path d="M1029.7 307.2h8.6l-4.3 -8.2z" fill="#fff" stroke="#000" stroke-width="1.4"/>
<path d="M1015.7 317.2h8.6l-4.3 -8.2z" fill="#fff" stroke="#000" stroke-width="1.4"/>
<path d="M1021.7 315.2h8.6l-4.3 -8.2z" fill="#fff" stroke="#000" stroke-width="1.4"/>
<path d="M1027.7 313.2h8.6l-4.3 -8.2z" fill="#fff" stroke="#000" stroke-width="1.4"/>
<path d="M1035.7 310.2h8.6l-4.3 -8.2z" fill="#fff" stroke="#000" stroke-width="1.4"/>
<path d="M1041.7 316.2h8.6l-4.3 -8.2z" fill="#fff" stroke="#000" stroke-width="1.4"/>
<path d="M1037.7 322.2h8.6l-4.3 -8.2z" fill="#fff" stroke="#000" stroke-width="1.4"/>
<path d="M1045.7 320.2h8.6l-4.3 -8.2z" fill="#fff" stroke="#000" stroke-width="1.4"/>
<path d="M1051.7 324.2h8.6l-4.3 -8.2z" fill="#fff" stroke="#000" stroke-width="1.4"/>
<path d="M1057.7 320.2h8.6l-4.3 -8.2z" fill="#fff" stroke="#000" stroke-width="1.4"/>
<path d="M1061.7 326.2h8.6l-4.3 -8.2z" fill="#fff" stroke="#000" stroke-width="1.4"/>
<path d="M1065.7 330.2h8.6l-4.3 -8.2z" fill="#fff" stroke="#000" stroke-width="1.4"/>
<path d="M1041.7 308.2h8.6l-4.3 -8.2z" fill="#fff" stroke="#000" stroke-width="1.4"/>
<path d="M1047.7 302.2h8.6l-4.3 -8.2z" fill="#fff" stroke="#000" stroke-width="1.4"/>
<path d="M1059.7 300.2h8.6l-4.3 -8.2z" fill="#fff" stroke="#000" stroke-width="1.4"/>
<path d="M1067.7 310.2h8.6l-4.3 -8.2z" fill="#fff" stroke="#000" stroke-width="1.4"/>
<path d="M1049.3 371.5h8.6l-4.3 -8.2z" fill="#fff" stroke="#000" stroke-width="1.4"/>
<path d="M1041.9 363.4h8.6l-4.3 -8.2z" fill="#fff" stroke="#000" stroke-width="1.4"/>
<path d="M1023.7 364.1h8.6l-4.3 -8.2z" fill="#fff" stroke="#000" stroke-width="1.4"/>
<path d="M1068.2 375.5h8.6l-4.3 -8.2z" fill="#fff" stroke="#000" stroke-width="1.4"/>
<path d="M1076.3 380.9h8.6l-4.3 -8.2z" fill="#fff" stroke="#000" stroke-width="1.4"/>
<path d="M1083.0 385.6h8.6l-4.3 -8.2z" fill="#fff" stroke="#000" stroke-width="1.4"/>
<path d="M1069.5 385.6h8.6l-4.3 -8.2z" fill="#fff" stroke="#000" stroke-width="1.4"/>
<path d="M1041.2 381.6h8.6l-4.3 -8.2z" fill="#fff" stroke="#000" stroke-width="1.4"/>
<path d="M1039.7 385.6h8.6l-4.3 -8.2z" fill="#fff" stroke="#000" stroke-width="1.4"/>
<path d="M1054.7 351.9h8.6l-4.3 -8.2z" fill="#fff" stroke="#000" stroke-width="1.4"/>
<path d="M1063.5 348.6h8.6l-4.3 -8.2z" fill="#fff" stroke="#000" stroke-width="1.4"/>
<path d="M1069.5 357.3h8.6l-4.3 -8.2z" fill="#fff" stroke="#000" stroke-width="1.4"/>
<path d="M1075.6 358.0h8.6l-4.3 -8.2z" fill="#fff" stroke="#000" stroke-width="1.4"/>
<path d="M1072.2 344.5h8.6l-4.3 -8.2z" fill="#fff" stroke="#000" stroke-width="1.4"/>
<path d="M1071.5 337.1h8.6l-4.3 -8.2z" fill="#fff" stroke="#000" stroke-width="1.4"/>
<path d="M1071.5 330.4h8.6l-4.3 -8.2z" fill="#fff" stroke="#000" stroke-width="1.4"/>
<path d="M1035.8 343.2h8.6l-4.3 -8.2z" fill="#fff" stroke="#000" stroke-width="1.4"/>
<path d="M1030.4 356.0h8.6l-4.3 -8.2z" fill="#fff" stroke="#000" stroke-width="1.4"/>
<path d="M1035.8 354.0h8.6l-4.3 -8.2z" fill="#fff" stroke="#000" stroke-width="1.4"/>
<path d="M1023.7 356.0h8.6l-4.3 -8.2z" fill="#fff" stroke="#000" stroke-width="1.4"/>
<path d="M1015.6 344.5h8.6l-4.3 -8.2z" fill="#fff" stroke="#000" stroke-width="1.4"/>
<path d="M1029.7 336.2h8.6l-4.3 -8.2z" fill="#fff" stroke="#000" stroke-width="1.4"/>
<path d="M1035.7 332.2h8.6l-4.3 -8.2z" fill="#fff" stroke="#000" stroke-width="1.4"/>
<path d="M1041.7 338.2h8.6l-4.3 -8.2z" fill="#fff" stroke="#000" stroke-width="1.4"/>
<path d="M1047.7 340.2h8.6l-4.3 -8.2z" fill="#fff" stroke="#000" stroke-width="1.4"/>
<path d="M1053.7 344.2h8.6l-4.3 -8.2z" fill="#fff" stroke="#000" stroke-width="1.4"/>
<path d="M1059.7 340.2h8.6l-4.3 -8.2z" fill="#fff" stroke="#000" stroke-width="1.4"/>
<path d="M1065.7 342.2h8.6l-4.3 -8.2z" fill="#fff" stroke="#000" stroke-width="1.4"/>
<path d="M1025.7 348.2h8.6l-4.3 -8.2z" fill="#fff" stroke="#000" stroke-width="1.4"/>
<path d="M1031.7 348.2h8.6l-4.3 -8.2z" fill="#fff" stroke="#000" stroke-width="1.4"/>
<path d="M1041.7 348.2h8.6l-4.3 -8.2z" fill="#fff" stroke="#000" stroke-width="1.4"/>
<path d="M1019.7 360.2h8.6l-4.3 -8.2z" fill="#fff" stroke="#000" stroke-width="1.4"/>
<path d="M1029.7 362.2h8.6l-4.3 -8.2z" fill="#fff" stroke="#000" stroke-width="1.4"/>
<path d="M1045.7 356.2h8.6l-4.3 -8.2z" fill="#fff" stroke="#000" stroke-width="1.4"/>
<path d="M1031.7 385.6h8.6l-4.3 -8.2z" fill="#fff" stroke="#000" stroke-width="1.4"/>
<path d="M1043.7 385.6h8.6l-4.3 -8.2z" fill="#fff" stroke="#000" stroke-width="1.4"/>
<path d="M1053.7 385.6h8.6l-4.3 -8.2z" fill="#fff" stroke="#000" stroke-width="1.4"/>
<path d="M1059.7 385.6h8.6l-4.3 -8.2z" fill="#fff" stroke="#000" stroke-width="1.4"/>
<path d="M1073.7 385.6h8.6l-4.3 -8.2z" fill="#fff" stroke="#000" stroke-width="1.4"/>
<path d="M1027.7 380.2h8.6l-4.3 -8.2z" fill="#fff" stroke="#000" stroke-width="1.4"/>
<path d="M1045.7 376.2h8.6l-4.3 -8.2z" fill="#fff" stroke="#000" stroke-width="1.4"/>
<rect x="1031.2" y="376.6" width="9.6" height="9.6" fill="#000"/>
<rect x="1037.2" y="376.8" width="9.6" height="9.6" fill="#000"/>
<rect x="1044.2" y="376.6" width="9.6" height="9.6" fill="#000"/>
<rect x="1037.2" y="367.2" width="9.6" height="9.6" fill="#000"/>
<path d="M1044.8 325.0h10.4l-5.2 10.2z" fill="#000"/>
<path d="M1052.8 321.0h10.4l-5.2 10.2z" fill="#000"/>
<path d="M1058.8 327.0h10.4l-5.2 10.2z" fill="#000"/>
<path d="M1038.8 331.0h10.4l-5.2 10.2z" fill="#000"/>
<path d="M1050.8 333.0h10.4l-5.2 10.2z" fill="#000"/>
<circle cx="1026.6" cy="259.7" r="4.3" fill="#fff" stroke="#000" stroke-width="1.5"/>
<circle cx="1069.1" cy="297.2" r="4.3" fill="#fff" stroke="#000" stroke-width="1.5"/>
<circle cx="1082.6" cy="306.6" r="4.3" fill="#fff" stroke="#000" stroke-width="1.5"/>
<circle cx="1052.9" cy="342.3" r="4.3" fill="#fff" stroke="#000" stroke-width="1.5"/>
<circle cx="1037.4" cy="366.6" r="4.3" fill="#fff" stroke="#000" stroke-width="1.5"/>
<circle cx="1038.0" cy="322.0" r="4.3" fill="#fff" stroke="#000" stroke-width="1.5"/>
<path d="M1093.8 360.7h8.6l-4.3 -8.2z" fill="#fff" stroke="#000" stroke-width="1.4"/>
<path d="M1089.7 305.4h8.6l-4.3 -8.2z" fill="#fff" stroke="#000" stroke-width="1.4"/>
<path d="M1090.7 306.2h8.6l-4.3 -8.2z" fill="#fff" stroke="#000" stroke-width="1.4"/>
<path d="M1092.9 272.0h10.4l-5.2 10.2z" fill="#000"/>
<path d="M1103.7 284.1h10.4l-5.2 10.2z" fill="#000"/>
<path d="M1084.8 300.3h10.4l-5.2 10.2z" fill="#000"/>
<path d="M1097.6 301.6h10.4l-5.2 10.2z" fill="#000"/>
<path d="M1111.0 328.2h10.4l-5.2 10.2z" fill="#000"/>
<path d="M1114.7 299.0h10.4l-5.2 10.2z" fill="#000"/>
<path d="M1097.8 300.0h10.4l-5.2 10.2z" fill="#000"/>
<path d="M1087.0 226.0h10.4l-5.2 10.2z" fill="#000"/>
<path d="M1097.3 204.0h10.4l-5.2 10.2z" fill="#000"/>
<circle cx="1208.3" cy="66.5" r="4.3" fill="#fff" stroke="#000" stroke-width="1.5"/>
<circle cx="1220.8" cy="66.5" r="4.3" fill="#fff" stroke="#000" stroke-width="1.5"/>
<circle cx="1193.6" cy="81.1" r="4.3" fill="#fff" stroke="#000" stroke-width="1.5"/>
<circle cx="1225.3" cy="81.1" r="4.3" fill="#fff" stroke="#000" stroke-width="1.5"/>
<circle cx="1222.3" cy="86.4" r="4.3" fill="#fff" stroke="#000" stroke-width="1.5"/>
<circle cx="1242.2" cy="81.1" r="4.3" fill="#fff" stroke="#000" stroke-width="1.5"/>
<circle cx="1226.3" cy="99.1" r="4.3" fill="#fff" stroke="#000" stroke-width="1.5"/>
<circle cx="1193.6" cy="101.3" r="4.3" fill="#fff" stroke="#000" stroke-width="1.5"/>
<circle cx="1176.6" cy="111.8" r="4.3" fill="#fff" stroke="#000" stroke-width="1.5"/>
<circle cx="1220.0" cy="121.5" r="4.3" fill="#fff" stroke="#000" stroke-width="1.5"/>
<circle cx="1242.2" cy="124.5" r="4.3" fill="#fff" stroke="#000" stroke-width="1.5"/>
<circle cx="1214.6" cy="129.9" r="4.3" fill="#fff" stroke="#000" stroke-width="1.5"/>
<circle cx="1179.8" cy="131.9" r="4.3" fill="#fff" stroke="#000" stroke-width="1.5"/>
<circle cx="1125.9" cy="133.9" r="4.3" fill="#fff" stroke="#000" stroke-width="1.5"/>
<circle cx="1161.7" cy="135.9" r="4.3" fill="#fff" stroke="#000" stroke-width="1.5"/>
<circle cx="1204.0" cy="137.1" r="4.3" fill="#fff" stroke="#000" stroke-width="1.5"/>
<circle cx="1197.3" cy="150.3" r="4.3" fill="#fff" stroke="#000" stroke-width="1.5"/>
<circle cx="1198.5" cy="151.3" r="4.3" fill="#fff" stroke="#000" stroke-width="1.5"/>
<circle cx="1154.4" cy="151.7" r="4.3" fill="#fff" stroke="#000" stroke-width="1.5"/>
<circle cx="1143.9" cy="159.0" r="4.3" fill="#fff" stroke="#000" stroke-width="1.5"/>
<circle cx="1155.4" cy="160.5" r="4.3" fill="#fff" stroke="#000" stroke-width="1.5"/>
<circle cx="1164.4" cy="159.2" r="4.3" fill="#fff" stroke="#000" stroke-width="1.5"/>
<circle cx="1171.4" cy="164.8" r="4.3" fill="#fff" stroke="#000" stroke-width="1.5"/>
<circle cx="1177.6" cy="161.8" r="4.3" fill="#fff" stroke="#000" stroke-width="1.5"/>
<circle cx="1185.3" cy="164.8" r="4.3" fill="#fff" stroke="#000" stroke-width="1.5"/>
<circle cx="1127.9" cy="163.5" r="4.3" fill="#fff" stroke="#000" stroke-width="1.5"/>
<circle cx="1117.7" cy="168.8" r="4.3" fill="#fff" stroke="#000" stroke-width="1.5"/>
<circle cx="1135.4" cy="169.0" r="4.3" fill="#fff" stroke="#000" stroke-width="1.5"/>
<circle cx="1146.9" cy="169.0" r="4.3" fill="#fff" stroke="#000" stroke-width="1.5"/>
<circle cx="1152.4" cy="174.2" r="4.3" fill="#fff" stroke="#000" stroke-width="1.5"/>
<circle cx="1123.9" cy="175.5" r="4.3" fill="#fff" stroke="#000" stroke-width="1.5"/>
<circle cx="1119.9" cy="177.0" r="4.3" fill="#fff" stroke="#000" stroke-width="1.5"/>
<circle cx="1117.9" cy="179.4" r="4.3" fill="#fff" stroke="#000" stroke-width="1.5"/>
<circle cx="1117.4" cy="182.4" r="4.3" fill="#fff" stroke="#000" stroke-width="1.5"/>
<circle cx="1124.9" cy="180.9" r="4.3" fill="#fff" stroke="#000" stroke-width="1.5"/>
<circle cx="1127.9" cy="178.5" r="4.3" fill="#fff" stroke="#000" stroke-width="1.5"/>
<circle cx="1104.8" cy="178.5" r="4.3" fill="#fff" stroke="#000" stroke-width="1.5"/>
<circle cx="1101.8" cy="182.9" r="4.3" fill="#fff" stroke="#000" stroke-width="1.5"/>
<circle cx="1106.8" cy="185.9" r="4.3" fill="#fff" stroke="#000" stroke-width="1.5"/>
<circle cx="1109.9" cy="187.9" r="4.3" fill="#fff" stroke="#000" stroke-width="1.5"/>
<circle cx="1117.4" cy="194.9" r="4.3" fill="#fff" stroke="#000" stroke-width="1.5"/>
<circle cx="1165.4" cy="179.4" r="4.3" fill="#fff" stroke="#000" stroke-width="1.5"/>
<circle cx="1154.4" cy="182.9" r="4.3" fill="#fff" stroke="#000" stroke-width="1.5"/>
<circle cx="1160.9" cy="183.4" r="4.3" fill="#fff" stroke="#000" stroke-width="1.5"/>
<circle cx="1153.9" cy="185.4" r="4.3" fill="#fff" stroke="#000" stroke-width="1.5"/>
<circle cx="1157.9" cy="186.9" r="4.3" fill="#fff" stroke="#000" stroke-width="1.5"/>
<circle cx="1156.4" cy="189.4" r="4.3" fill="#fff" stroke="#000" stroke-width="1.5"/>
<circle cx="1162.9" cy="192.4" r="4.3" fill="#fff" stroke="#000" stroke-width="1.5"/>
<circle cx="1177.3" cy="190.6" r="4.3" fill="#fff" stroke="#000" stroke-width="1.5"/>
<circle cx="1178.3" cy="191.1" r="4.3" fill="#fff" stroke="#000" stroke-width="1.5"/>
<circle cx="1140.6" cy="194.2" r="4.3" fill="#fff" stroke="#000" stroke-width="1.5"/>
<circle cx="1135.9" cy="202.7" r="4.3" fill="#fff" stroke="#000" stroke-width="1.5"/>
<circle cx="1143.2" cy="202.7" r="4.3" fill="#fff" stroke="#000" stroke-width="1.5"/>
<circle cx="1139.4" cy="208.5" r="4.3" fill="#fff" stroke="#000" stroke-width="1.5"/>
<circle cx="1171.9" cy="203.7" r="4.3" fill="#fff" stroke="#000" stroke-width="1.5"/>
<circle cx="1175.9" cy="203.7" r="4.3" fill="#fff" stroke="#000" stroke-width="1.5"/>
<circle cx="1095.5" cy="205.8" r="4.3" fill="#fff" stroke="#000" stroke-width="1.5"/>
<circle cx="1109.0" cy="210.2" r="4.3" fill="#fff" stroke="#000" stroke-width="1.5"/>
<circle cx="1118.4" cy="214.0" r="4.3" fill="#fff" stroke="#000" stroke-width="1.5"/>
<circle cx="1117.4" cy="218.5" r="4.3" fill="#fff" stroke="#000" stroke-width="1.5"/>
<circle cx="1117.4" cy="222.0" r="4.3" fill="#fff" stroke="#000" stroke-width="1.5"/>
<circle cx="1103.0" cy="221.0" r="4.3" fill="#fff" stroke="#000" stroke-width="1.5"/>
<circle cx="1147.1" cy="220.8" r="4.3" fill="#fff" stroke="#000" stroke-width="1.5"/>
<circle cx="1140.4" cy="224.0" r="4.3" fill="#fff" stroke="#000" stroke-width="1.5"/>
<circle cx="1139.7" cy="228.5" r="4.3" fill="#fff" stroke="#000" stroke-width="1.5"/>
<circle cx="1134.9" cy="230.1" r="4.3" fill="#fff" stroke="#000" stroke-width="1.5"/>
<circle cx="1111.1" cy="233.4" r="4.3" fill="#fff" stroke="#000" stroke-width="1.5"/>
<circle cx="1106.5" cy="235.4" r="4.3" fill="#fff" stroke="#000" stroke-width="1.5"/>
<circle cx="1120.4" cy="240.7" r="4.3" fill="#fff" stroke="#000" stroke-width="1.5"/>
<circle cx="1129.4" cy="238.9" r="4.3" fill="#fff" stroke="#000" stroke-width="1.5"/>
<circle cx="1130.1" cy="240.7" r="4.3" fill="#fff" stroke="#000" stroke-width="1.5"/>
<circle cx="1146.0" cy="247.0" r="4.3" fill="#fff" stroke="#000" stroke-width="1.5"/>
<circle cx="1122.8" cy="252.0" r="4.3" fill="#fff" stroke="#000" stroke-width="1.5"/>
<circle cx="1131.4" cy="251.6" r="4.3" fill="#fff" stroke="#000" stroke-width="1.5"/>
<circle cx="1134.4" cy="252.3" r="4.3" fill="#fff" stroke="#000" stroke-width="1.5"/>
<circle cx="1120.4" cy="260.0" r="4.3" fill="#fff" stroke="#000" stroke-width="1.5"/>
<circle cx="1131.4" cy="266.2" r="4.3" fill="#fff" stroke="#000" stroke-width="1.5"/>
<circle cx="1094.9" cy="265.0" r="4.3" fill="#fff" stroke="#000" stroke-width="1.5"/>
<circle cx="1121.7" cy="284.1" r="4.3" fill="#fff" stroke="#000" stroke-width="1.5"/>
<circle cx="1108.2" cy="318.1" r="4.3" fill="#fff" stroke="#000" stroke-width="1.5"/>
<path d="M1140.9 204.0h10.4l-5.2 10.2z" fill="#000"/>
<path d="M1165.2 209.5h10.4l-5.2 10.2z" fill="#000"/>
<path d="M825.00 2.7V511.2H1302.80" fill="none" stroke="#000" stroke-width="2.1" stroke-linecap="square"/>
<line x1="835.00" y1="511.20" x2="835.00" y2="521.70" stroke="#000" stroke-width="2.0" />
<line x1="825.00" y1="502.90" x2="813.70" y2="502.90" stroke="#000" stroke-width="2.0" />
<text x="835.30" y="552.50" text-anchor="middle" font-size="23.2" >0.01</text>
<text x="806.10" y="511.70" text-anchor="end" font-size="23.2" >0.01</text>
<line x1="868.99" y1="511.20" x2="868.99" y2="517.80" stroke="#000" stroke-width="1.3" />
<line x1="825.00" y1="465.99" x2="819.60" y2="465.99" stroke="#000" stroke-width="1.3" />
<line x1="888.88" y1="511.20" x2="888.88" y2="517.80" stroke="#000" stroke-width="1.3" />
<line x1="825.00" y1="444.40" x2="819.60" y2="444.40" stroke="#000" stroke-width="1.3" />
<line x1="902.99" y1="511.20" x2="902.99" y2="517.80" stroke="#000" stroke-width="1.3" />
<line x1="825.00" y1="429.09" x2="819.60" y2="429.09" stroke="#000" stroke-width="1.3" />
<line x1="913.93" y1="511.20" x2="913.93" y2="517.80" stroke="#000" stroke-width="1.3" />
<line x1="825.00" y1="417.21" x2="819.60" y2="417.21" stroke="#000" stroke-width="1.3" />
<line x1="922.87" y1="511.20" x2="922.87" y2="517.80" stroke="#000" stroke-width="1.3" />
<line x1="825.00" y1="407.50" x2="819.60" y2="407.50" stroke="#000" stroke-width="1.3" />
<line x1="930.43" y1="511.20" x2="930.43" y2="517.80" stroke="#000" stroke-width="1.3" />
<line x1="825.00" y1="399.29" x2="819.60" y2="399.29" stroke="#000" stroke-width="1.3" />
<line x1="936.98" y1="511.20" x2="936.98" y2="517.80" stroke="#000" stroke-width="1.3" />
<line x1="825.00" y1="392.18" x2="819.60" y2="392.18" stroke="#000" stroke-width="1.3" />
<line x1="942.76" y1="511.20" x2="942.76" y2="517.80" stroke="#000" stroke-width="1.3" />
<line x1="825.00" y1="385.91" x2="819.60" y2="385.91" stroke="#000" stroke-width="1.3" />
<line x1="947.92" y1="511.20" x2="947.92" y2="521.70" stroke="#000" stroke-width="2.0" />
<line x1="825.00" y1="380.30" x2="813.70" y2="380.30" stroke="#000" stroke-width="2.0" />
<text x="948.22" y="552.50" text-anchor="middle" font-size="23.2" >0.1</text>
<text x="806.10" y="389.10" text-anchor="end" font-size="23.2" >0.1</text>
<line x1="981.92" y1="511.20" x2="981.92" y2="517.80" stroke="#000" stroke-width="1.3" />
<line x1="825.00" y1="344.00" x2="819.60" y2="344.00" stroke="#000" stroke-width="1.3" />
<line x1="1001.80" y1="511.20" x2="1001.80" y2="517.80" stroke="#000" stroke-width="1.3" />
<line x1="825.00" y1="322.76" x2="819.60" y2="322.76" stroke="#000" stroke-width="1.3" />
<line x1="1015.91" y1="511.20" x2="1015.91" y2="517.80" stroke="#000" stroke-width="1.3" />
<line x1="825.00" y1="307.69" x2="819.60" y2="307.69" stroke="#000" stroke-width="1.3" />
<line x1="1026.86" y1="511.20" x2="1026.86" y2="517.80" stroke="#000" stroke-width="1.3" />
<line x1="825.00" y1="296.00" x2="819.60" y2="296.00" stroke="#000" stroke-width="1.3" />
<line x1="1035.80" y1="511.20" x2="1035.80" y2="517.80" stroke="#000" stroke-width="1.3" />
<line x1="825.00" y1="286.45" x2="819.60" y2="286.45" stroke="#000" stroke-width="1.3" />
<line x1="1043.36" y1="511.20" x2="1043.36" y2="517.80" stroke="#000" stroke-width="1.3" />
<line x1="825.00" y1="278.38" x2="819.60" y2="278.38" stroke="#000" stroke-width="1.3" />
<line x1="1049.91" y1="511.20" x2="1049.91" y2="517.80" stroke="#000" stroke-width="1.3" />
<line x1="825.00" y1="271.39" x2="819.60" y2="271.39" stroke="#000" stroke-width="1.3" />
<line x1="1055.68" y1="511.20" x2="1055.68" y2="517.80" stroke="#000" stroke-width="1.3" />
<line x1="825.00" y1="265.22" x2="819.60" y2="265.22" stroke="#000" stroke-width="1.3" />
<line x1="1060.85" y1="511.20" x2="1060.85" y2="521.70" stroke="#000" stroke-width="2.0" />
<line x1="825.00" y1="259.70" x2="813.70" y2="259.70" stroke="#000" stroke-width="2.0" />
<text x="1061.15" y="552.50" text-anchor="middle" font-size="23.2" >1</text>
<text x="806.10" y="268.50" text-anchor="end" font-size="23.2" >1</text>
<line x1="1094.84" y1="511.20" x2="1094.84" y2="517.80" stroke="#000" stroke-width="1.3" />
<line x1="825.00" y1="223.09" x2="819.60" y2="223.09" stroke="#000" stroke-width="1.3" />
<line x1="1114.73" y1="511.20" x2="1114.73" y2="517.80" stroke="#000" stroke-width="1.3" />
<line x1="825.00" y1="201.68" x2="819.60" y2="201.68" stroke="#000" stroke-width="1.3" />
<line x1="1128.84" y1="511.20" x2="1128.84" y2="517.80" stroke="#000" stroke-width="1.3" />
<line x1="825.00" y1="186.49" x2="819.60" y2="186.49" stroke="#000" stroke-width="1.3" />
<line x1="1139.78" y1="511.20" x2="1139.78" y2="517.80" stroke="#000" stroke-width="1.3" />
<line x1="825.00" y1="174.71" x2="819.60" y2="174.71" stroke="#000" stroke-width="1.3" />
<line x1="1148.72" y1="511.20" x2="1148.72" y2="517.80" stroke="#000" stroke-width="1.3" />
<line x1="825.00" y1="165.08" x2="819.60" y2="165.08" stroke="#000" stroke-width="1.3" />
<line x1="1156.28" y1="511.20" x2="1156.28" y2="517.80" stroke="#000" stroke-width="1.3" />
<line x1="825.00" y1="156.94" x2="819.60" y2="156.94" stroke="#000" stroke-width="1.3" />
<line x1="1162.83" y1="511.20" x2="1162.83" y2="517.80" stroke="#000" stroke-width="1.3" />
<line x1="825.00" y1="149.88" x2="819.60" y2="149.88" stroke="#000" stroke-width="1.3" />
<line x1="1168.61" y1="511.20" x2="1168.61" y2="517.80" stroke="#000" stroke-width="1.3" />
<line x1="825.00" y1="143.66" x2="819.60" y2="143.66" stroke="#000" stroke-width="1.3" />
<line x1="1173.78" y1="511.20" x2="1173.78" y2="521.70" stroke="#000" stroke-width="2.0" />
<line x1="825.00" y1="138.10" x2="813.70" y2="138.10" stroke="#000" stroke-width="2.0" />
<text x="1174.08" y="552.50" text-anchor="middle" font-size="23.2" >10</text>
<text x="806.10" y="146.90" text-anchor="end" font-size="23.2" >10</text>
<line x1="1207.77" y1="511.20" x2="1207.77" y2="517.80" stroke="#000" stroke-width="1.3" />
<line x1="825.00" y1="101.83" x2="819.60" y2="101.83" stroke="#000" stroke-width="1.3" />
<line x1="1227.65" y1="511.20" x2="1227.65" y2="517.80" stroke="#000" stroke-width="1.3" />
<line x1="825.00" y1="80.61" x2="819.60" y2="80.61" stroke="#000" stroke-width="1.3" />
<line x1="1241.76" y1="511.20" x2="1241.76" y2="517.80" stroke="#000" stroke-width="1.3" />
<line x1="825.00" y1="65.55" x2="819.60" y2="65.55" stroke="#000" stroke-width="1.3" />
<line x1="1252.71" y1="511.20" x2="1252.71" y2="517.80" stroke="#000" stroke-width="1.3" />
<line x1="825.00" y1="53.87" x2="819.60" y2="53.87" stroke="#000" stroke-width="1.3" />
<line x1="1261.65" y1="511.20" x2="1261.65" y2="517.80" stroke="#000" stroke-width="1.3" />
<line x1="825.00" y1="44.33" x2="819.60" y2="44.33" stroke="#000" stroke-width="1.3" />
<line x1="1269.21" y1="511.20" x2="1269.21" y2="517.80" stroke="#000" stroke-width="1.3" />
<line x1="825.00" y1="36.27" x2="819.60" y2="36.27" stroke="#000" stroke-width="1.3" />
<line x1="1275.76" y1="511.20" x2="1275.76" y2="517.80" stroke="#000" stroke-width="1.3" />
<line x1="825.00" y1="29.28" x2="819.60" y2="29.28" stroke="#000" stroke-width="1.3" />
<line x1="1281.53" y1="511.20" x2="1281.53" y2="517.80" stroke="#000" stroke-width="1.3" />
<line x1="825.00" y1="23.11" x2="819.60" y2="23.11" stroke="#000" stroke-width="1.3" />
<line x1="1286.70" y1="511.20" x2="1286.70" y2="521.70" stroke="#000" stroke-width="2.0" />
<line x1="825.00" y1="17.60" x2="813.70" y2="17.60" stroke="#000" stroke-width="2.0" />
<text x="1287.00" y="552.50" text-anchor="middle" font-size="23.2" >100</text>
<text x="806.10" y="26.40" text-anchor="end" font-size="23.2" >100</text>
<text transform="translate(1066.60 587.0) scale(1.007 1)" text-anchor="middle" font-size="23.2">T7-based 3rd TRAb ELISA (IU/L)</text>
<text transform="translate(740.5 257.4) rotate(-90) scale(1.008 1.045)" text-anchor="middle" font-size="23.2">M22-based 3rd TRAb ELISA (IU/L)</text>
<text x="859.30" y="52.20" text-anchor="start" font-size="21" >y = -1.83 + 2.24 x</text>
<ellipse cx="1148.3" cy="372.1" rx="4.4" ry="4.2" fill="#fff" stroke="#000" stroke-width="1.6"/>
<text transform="translate(1168.50 380.00) scale(1 1.05)" font-size="23.2">GD</text>
<path d="M1143.1 395.6h10.4l-5.2 10.2z" fill="#000"/>
<text transform="translate(1168.50 408.45) scale(1 1.05)" font-size="23.2">HT</text>
<path d="M1144.0 433.2h8.6l-4.3 -8.2z" fill="#fff" stroke="#000" stroke-width="1.4"/>
<text transform="translate(1168.50 436.90) scale(1 1.05)" font-size="23.2">NAITD</text>
<path d="M1143.1 462.5h10.4l-5.2 -10.2z" fill="#000"/>
<text transform="translate(1168.50 465.35) scale(1 1.05)" font-size="23.2">RA</text>
<rect x="1143.5" y="481.1" width="9.6" height="9.6" fill="#000"/>
<text transform="translate(1168.50 493.80) scale(1 1.05)" font-size="23.2">HS</text>
</g>
<g id="panel3">
<line x1="1579.50" y1="240.40" x2="2032.80" y2="240.40" stroke="#777" stroke-width="2.2" />
<line x1="1579.50" y1="238.70" x2="2032.80" y2="238.70" stroke="#000" stroke-width="1.9" />
<line x1="1579.50" y1="242.10" x2="2032.80" y2="242.10" stroke="#000" stroke-width="1.9" />
<line x1="1761.50" y1="18.00" x2="1761.50" y2="503.60" stroke="#000" stroke-width="2.0" />
<line x1="1795.20" y1="18.00" x2="1795.20" y2="503.60" stroke="#000" stroke-width="2.0" />
<line x1="1580.20" y1="502.90" x2="2032.00" y2="17.60" stroke="#000" stroke-width="2.0" />
<rect x="1688.8" y="240.3" width="9.6" height="9.6" fill="#000"/>
<rect x="1688.8" y="281.2" width="9.6" height="9.6" fill="#000"/>
<rect x="1688.8" y="287.2" width="9.6" height="9.6" fill="#000"/>
<rect x="1688.8" y="293.2" width="9.6" height="9.6" fill="#000"/>
<rect x="1688.8" y="299.2" width="9.6" height="9.6" fill="#000"/>
<rect x="1688.8" y="305.2" width="9.6" height="9.6" fill="#000"/>
<rect x="1688.8" y="311.2" width="9.6" height="9.6" fill="#000"/>
<rect x="1688.8" y="317.2" width="9.6" height="9.6" fill="#000"/>
<rect x="1688.8" y="323.2" width="9.6" height="9.6" fill="#000"/>
<rect x="1688.8" y="329.2" width="9.6" height="9.6" fill="#000"/>
<rect x="1688.8" y="334.2" width="9.6" height="9.6" fill="#000"/>
<rect x="1688.8" y="376.6" width="9.6" height="9.6" fill="#000"/>
<rect x="1697.5" y="332.2" width="9.6" height="9.6" fill="#000"/>
<rect x="1701.6" y="311.9" width="9.6" height="9.6" fill="#000"/>
<rect x="1709.0" y="329.5" width="9.6" height="9.6" fill="#000"/>
<rect x="1724.5" y="262.5" width="9.6" height="9.6" fill="#000"/>
<rect x="1708.3" y="269.3" width="9.6" height="9.6" fill="#000"/>
<rect x="1697.2" y="291.2" width="9.6" height="9.6" fill="#000"/>
<rect x="1697.2" y="303.2" width="9.6" height="9.6" fill="#000"/>
<rect x="1703.2" y="321.2" width="9.6" height="9.6" fill="#000"/>
<circle cx="1760.3" cy="286.2" r="4.3" fill="#fff" stroke="#000" stroke-width="1.5"/>
<circle cx="1728.0" cy="283.0" r="4.3" fill="#fff" stroke="#000" stroke-width="1.5"/>
<circle cx="1738.0" cy="292.0" r="4.3" fill="#fff" stroke="#000" stroke-width="1.5"/>
<rect x="1728.2" y="260.2" width="9.6" height="9.6" fill="#000"/>
<rect x="1726.2" y="269.2" width="9.6" height="9.6" fill="#000"/>
<rect x="1733.2" y="267.2" width="9.6" height="9.6" fill="#000"/>
<rect x="1721.2" y="277.2" width="9.6" height="9.6" fill="#000"/>
<rect x="1727.2" y="277.2" width="9.6" height="9.6" fill="#000"/>
<rect x="1735.2" y="275.2" width="9.6" height="9.6" fill="#000"/>
<rect x="1743.2" y="271.2" width="9.6" height="9.6" fill="#000"/>
<rect x="1751.2" y="267.2" width="9.6" height="9.6" fill="#000"/>
<rect x="1713.2" y="285.2" width="9.6" height="9.6" fill="#000"/>
<rect x="1721.2" y="285.2" width="9.6" height="9.6" fill="#000"/>
<rect x="1729.2" y="285.2" width="9.6" height="9.6" fill="#000"/>
<rect x="1737.2" y="283.2" width="9.6" height="9.6" fill="#000"/>
<rect x="1745.2" y="281.2" width="9.6" height="9.6" fill="#000"/>
<rect x="1753.2" y="277.2" width="9.6" height="9.6" fill="#000"/>
<rect x="1761.2" y="271.2" width="9.6" height="9.6" fill="#000"/>
<rect x="1769.2" y="265.2" width="9.6" height="9.6" fill="#000"/>
<rect x="1775.2" y="257.2" width="9.6" height="9.6" fill="#000"/>
<rect x="1713.2" y="293.2" width="9.6" height="9.6" fill="#000"/>
<rect x="1721.2" y="293.2" width="9.6" height="9.6" fill="#000"/>
<rect x="1729.2" y="293.2" width="9.6" height="9.6" fill="#000"/>
<circle cx="1724.5" cy="284.5" r="4.3" fill="#fff" stroke="#000" stroke-width="1.5"/>
<circle cx="1760.8" cy="286.8" r="4.3" fill="#fff" stroke="#000" stroke-width="1.5"/>
<rect x="1737.2" y="291.2" width="9.6" height="9.6" fill="#000"/>
<rect x="1745.2" y="291.2" width="9.6" height="9.6" fill="#000"/>
<rect x="1753.2" y="287.2" width="9.6" height="9.6" fill="#000"/>
<rect x="1761.2" y="283.2" width="9.6" height="9.6" fill="#000"/>
<rect x="1769.2" y="277.2" width="9.6" height="9.6" fill="#000"/>
<rect x="1715.2" y="301.2" width="9.6" height="9.6" fill="#000"/>
<rect x="1723.2" y="301.2" width="9.6" height="9.6" fill="#000"/>
<rect x="1731.2" y="301.2" width="9.6" height="9.6" fill="#000"/>
<rect x="1739.2" y="299.2" width="9.6" height="9.6" fill="#000"/>
<rect x="1747.2" y="299.2" width="9.6" height="9.6" fill="#000"/>
<rect x="1755.2" y="295.2" width="9.6" height="9.6" fill="#000"/>
<rect x="1717.2" y="309.2" width="9.6" height="9.6" fill="#000"/>
<rect x="1725.2" y="309.2" width="9.6" height="9.6" fill="#000"/>
<rect x="1733.2" y="309.2" width="9.6" height="9.6" fill="#000"/>
<rect x="1741.2" y="307.2" width="9.6" height="9.6" fill="#000"/>
<rect x="1749.2" y="307.2" width="9.6" height="9.6" fill="#000"/>
<rect x="1719.2" y="317.2" width="9.6" height="9.6" fill="#000"/>
<rect x="1727.2" y="317.2" width="9.6" height="9.6" fill="#000"/>
<rect x="1735.2" y="315.2" width="9.6" height="9.6" fill="#000"/>
<rect x="1743.2" y="315.2" width="9.6" height="9.6" fill="#000"/>
<rect x="1751.2" y="317.2" width="9.6" height="9.6" fill="#000"/>
<rect x="1759.2" y="321.2" width="9.6" height="9.6" fill="#000"/>
<rect x="1721.2" y="325.2" width="9.6" height="9.6" fill="#000"/>
<rect x="1729.2" y="325.2" width="9.6" height="9.6" fill="#000"/>
<rect x="1737.2" y="323.2" width="9.6" height="9.6" fill="#000"/>
<rect x="1745.2" y="323.2" width="9.6" height="9.6" fill="#000"/>
<rect x="1753.2" y="327.2" width="9.6" height="9.6" fill="#000"/>
<rect x="1725.2" y="333.2" width="9.6" height="9.6" fill="#000"/>
<rect x="1733.2" y="331.2" width="9.6" height="9.6" fill="#000"/>
<rect x="1741.2" y="331.2" width="9.6" height="9.6" fill="#000"/>
<rect x="1733.9" y="338.9" width="9.6" height="9.6" fill="#000"/>
<rect x="1746.1" y="342.9" width="9.6" height="9.6" fill="#000"/>
<rect x="1738.0" y="351.0" width="9.6" height="9.6" fill="#000"/>
<rect x="1746.1" y="349.7" width="9.6" height="9.6" fill="#000"/>
<rect x="1708.3" y="361.8" width="9.6" height="9.6" fill="#000"/>
<rect x="1715.1" y="358.4" width="9.6" height="9.6" fill="#000"/>
<rect x="1728.5" y="361.8" width="9.6" height="9.6" fill="#000"/>
<rect x="1743.4" y="361.8" width="9.6" height="9.6" fill="#000"/>
<rect x="1743.4" y="368.5" width="9.6" height="9.6" fill="#000"/>
<rect x="1707.2" y="376.6" width="9.6" height="9.6" fill="#000"/>
<path d="M1714.0 331.2h10.4l-5.2 -10.2z" fill="#000"/>
<path d="M1702.8 305.0h10.4l-5.2 -10.2z" fill="#000"/>
<path d="M1706.8 317.0h10.4l-5.2 -10.2z" fill="#000"/>
<path d="M1745.7 242.8h10.4l-5.2 10.2z" fill="#000"/>
<path d="M1744.3 250.2h10.4l-5.2 10.2z" fill="#000"/>
<path d="M1764.5 239.4h10.4l-5.2 10.2z" fill="#000"/>
<path d="M1786.1 238.0h10.4l-5.2 10.2z" fill="#000"/>
<path d="M1730.2 255.6h10.4l-5.2 10.2z" fill="#000"/>
<path d="M1772.6 251.6h10.4l-5.2 10.2z" fill="#000"/>
<path d="M1774.0 261.0h10.4l-5.2 10.2z" fill="#000"/>
<path d="M1772.6 294.0h10.4l-5.2 10.2z" fill="#000"/>
<path d="M1798.0 297.0h10.4l-5.2 10.2z" fill="#000"/>
<path d="M1750.8 257.0h10.4l-5.2 10.2z" fill="#000"/>
<path d="M1756.8 263.0h10.4l-5.2 10.2z" fill="#000"/>
<path d="M1762.8 257.0h10.4l-5.2 10.2z" fill="#000"/>
<path d="M1766.8 269.0h10.4l-5.2 10.2z" fill="#000"/>
<path d="M1758.8 275.0h10.4l-5.2 10.2z" fill="#000"/>
<path d="M1764.8 283.0h10.4l-5.2 10.2z" fill="#000"/>
<path d="M1770.8 279.0h10.4l-5.2 10.2z" fill="#000"/>
<path d="M1756.8 289.0h10.4l-5.2 10.2z" fill="#000"/>
<path d="M1762.8 295.0h10.4l-5.2 10.2z" fill="#000"/>
<path d="M1768.8 287.0h10.4l-5.2 10.2z" fill="#000"/>
<path d="M1688.8 271.0h10.4l-5.2 10.2z" fill="#000"/>
<path d="M1694.8 279.0h10.4l-5.2 10.2z" fill="#000"/>
<path d="M1746.8 243.0h10.4l-5.2 10.2z" fill="#000"/>
<path d="M1764.8 239.0h10.4l-5.2 10.2z" fill="#000"/>
<path d="M1754.8 301.0h10.4l-5.2 10.2z" fill="#000"/>
<path d="M1760.8 303.0h10.4l-5.2 10.2z" fill="#000"/>
<path d="M1709.1 258.7h8.6l-4.3 -8.2z" fill="#fff" stroke="#000" stroke-width="1.4"/>
<path d="M1715.6 258.7h8.6l-4.3 -8.2z" fill="#fff" stroke="#000" stroke-width="1.4"/>
<path d="M1689.3 271.5h8.6l-4.3 -8.2z" fill="#fff" stroke="#000" stroke-width="1.4"/>
<path d="M1714.9 274.9h8.6l-4.3 -8.2z" fill="#fff" stroke="#000" stroke-width="1.4"/>
<path d="M1788.3 249.3h8.6l-4.3 -8.2z" fill="#fff" stroke="#000" stroke-width="1.4"/>
<path d="M1757.3 252.7h8.6l-4.3 -8.2z" fill="#fff" stroke="#000" stroke-width="1.4"/>
<path d="M1752.0 262.1h8.6l-4.3 -8.2z" fill="#fff" stroke="#000" stroke-width="1.4"/>
<path d="M1739.2 270.9h8.6l-4.3 -8.2z" fill="#fff" stroke="#000" stroke-width="1.4"/>
<path d="M1693.3 293.1h8.6l-4.3 -8.2z" fill="#fff" stroke="#000" stroke-width="1.4"/>
<path d="M1712.2 288.4h8.6l-4.3 -8.2z" fill="#fff" stroke="#000" stroke-width="1.4"/>
<path d="M1762.7 287.0h8.6l-4.3 -8.2z" fill="#fff" stroke="#000" stroke-width="1.4"/>
<path d="M1701.4 307.2h8.6l-4.3 -8.2z" fill="#fff" stroke="#000" stroke-width="1.4"/>
<path d="M1688.7 305.9h8.6l-4.3 -8.2z" fill="#fff" stroke="#000" stroke-width="1.4"/>
<path d="M1756.7 253.7h8.6l-4.3 -8.2z" fill="#fff" stroke="#000" stroke-width="1.4"/>
<path d="M1788.7 249.2h8.6l-4.3 -8.2z" fill="#fff" stroke="#000" stroke-width="1.4"/>
<path d="M1723.0 363.4h8.6l-4.3 -8.2z" fill="#fff" stroke="#000" stroke-width="1.4"/>
<path d="M1743.9 372.2h8.6l-4.3 -8.2z" fill="#fff" stroke="#000" stroke-width="1.4"/>
<path d="M1727.0 377.5h8.6l-4.3 -8.2z" fill="#fff" stroke="#000" stroke-width="1.4"/>
<path d="M1763.4 375.5h8.6l-4.3 -8.2z" fill="#fff" stroke="#000" stroke-width="1.4"/>
<path d="M1756.0 352.6h8.6l-4.3 -8.2z" fill="#fff" stroke="#000" stroke-width="1.4"/>
<path d="M1764.8 335.1h8.6l-4.3 -8.2z" fill="#fff" stroke="#000" stroke-width="1.4"/>
<path d="M1755.3 337.8h8.6l-4.3 -8.2z" fill="#fff" stroke="#000" stroke-width="1.4"/>
<path d="M1744.5 341.8h8.6l-4.3 -8.2z" fill="#fff" stroke="#000" stroke-width="1.4"/>
<path d="M1754.7 323.0h8.6l-4.3 -8.2z" fill="#fff" stroke="#000" stroke-width="1.4"/>
<path d="M1749.7 321.2h8.6l-4.3 -8.2z" fill="#fff" stroke="#000" stroke-width="1.4"/>
<path d="M1698.0 385.6h8.6l-4.3 -8.2z" fill="#fff" stroke="#000" stroke-width="1.4"/>
<path d="M1758.0 385.6h8.6l-4.3 -8.2z" fill="#fff" stroke="#000" stroke-width="1.4"/>
<path d="M1705.7 294.2h8.6l-4.3 -8.2z" fill="#fff" stroke="#000" stroke-width="1.4"/>
<path d="M1699.7 284.2h8.6l-4.3 -8.2z" fill="#fff" stroke="#000" stroke-width="1.4"/>
<path d="M1741.7 284.2h8.6l-4.3 -8.2z" fill="#fff" stroke="#000" stroke-width="1.4"/>
<path d="M1749.7 294.2h8.6l-4.3 -8.2z" fill="#fff" stroke="#000" stroke-width="1.4"/>
<path d="M1735.7 304.2h8.6l-4.3 -8.2z" fill="#fff" stroke="#000" stroke-width="1.4"/>
<circle cx="1705.7" cy="278.8" r="4.3" fill="#fff" stroke="#000" stroke-width="1.5"/>
<circle cx="1769.7" cy="252.5" r="4.3" fill="#fff" stroke="#000" stroke-width="1.5"/>
<circle cx="1955.8" cy="60.0" r="4.3" fill="#fff" stroke="#000" stroke-width="1.5"/>
<circle cx="1953.8" cy="68.5" r="4.3" fill="#fff" stroke="#000" stroke-width="1.5"/>
<circle cx="1968.3" cy="66.5" r="4.3" fill="#fff" stroke="#000" stroke-width="1.5"/>
<circle cx="1972.3" cy="66.5" r="4.3" fill="#fff" stroke="#000" stroke-width="1.5"/>
<circle cx="1987.8" cy="66.5" r="4.3" fill="#fff" stroke="#000" stroke-width="1.5"/>
<circle cx="1920.7" cy="79.1" r="4.3" fill="#fff" stroke="#000" stroke-width="1.5"/>
<circle cx="1928.1" cy="78.1" r="4.3" fill="#fff" stroke="#000" stroke-width="1.5"/>
<circle cx="1943.8" cy="78.9" r="4.3" fill="#fff" stroke="#000" stroke-width="1.5"/>
<circle cx="1934.7" cy="87.7" r="4.3" fill="#fff" stroke="#000" stroke-width="1.5"/>
<circle cx="1932.3" cy="98.9" r="4.3" fill="#fff" stroke="#000" stroke-width="1.5"/>
<circle cx="1905.8" cy="102.2" r="4.3" fill="#fff" stroke="#000" stroke-width="1.5"/>
<circle cx="1922.0" cy="107.5" r="4.3" fill="#fff" stroke="#000" stroke-width="1.5"/>
<circle cx="1869.9" cy="111.8" r="4.3" fill="#fff" stroke="#000" stroke-width="1.5"/>
<circle cx="1894.3" cy="113.8" r="4.3" fill="#fff" stroke="#000" stroke-width="1.5"/>
<circle cx="1898.6" cy="116.0" r="4.3" fill="#fff" stroke="#000" stroke-width="1.5"/>
<circle cx="1908.0" cy="118.2" r="4.3" fill="#fff" stroke="#000" stroke-width="1.5"/>
<circle cx="1925.0" cy="117.5" r="4.3" fill="#fff" stroke="#000" stroke-width="1.5"/>
<circle cx="1922.8" cy="127.8" r="4.3" fill="#fff" stroke="#000" stroke-width="1.5"/>
<circle cx="1891.0" cy="127.8" r="4.3" fill="#fff" stroke="#000" stroke-width="1.5"/>
<circle cx="1899.8" cy="129.9" r="4.3" fill="#fff" stroke="#000" stroke-width="1.5"/>
<circle cx="1907.3" cy="129.7" r="4.3" fill="#fff" stroke="#000" stroke-width="1.5"/>
<circle cx="1897.3" cy="133.4" r="4.3" fill="#fff" stroke="#000" stroke-width="1.5"/>
<circle cx="1899.8" cy="133.4" r="4.3" fill="#fff" stroke="#000" stroke-width="1.5"/>
<circle cx="1882.9" cy="133.4" r="4.3" fill="#fff" stroke="#000" stroke-width="1.5"/>
<circle cx="1885.4" cy="132.4" r="4.3" fill="#fff" stroke="#000" stroke-width="1.5"/>
<circle cx="1881.4" cy="138.1" r="4.3" fill="#fff" stroke="#000" stroke-width="1.5"/>
<circle cx="1855.4" cy="132.9" r="4.3" fill="#fff" stroke="#000" stroke-width="1.5"/>
<circle cx="1880.4" cy="145.9" r="4.3" fill="#fff" stroke="#000" stroke-width="1.5"/>
<circle cx="1890.8" cy="146.6" r="4.3" fill="#fff" stroke="#000" stroke-width="1.5"/>
<circle cx="1895.5" cy="146.6" r="4.3" fill="#fff" stroke="#000" stroke-width="1.5"/>
<circle cx="1858.5" cy="149.5" r="4.3" fill="#fff" stroke="#000" stroke-width="1.5"/>
<circle cx="1881.6" cy="150.4" r="4.3" fill="#fff" stroke="#000" stroke-width="1.5"/>
<circle cx="1869.9" cy="155.5" r="4.3" fill="#fff" stroke="#000" stroke-width="1.5"/>
<circle cx="1858.8" cy="158.0" r="4.3" fill="#fff" stroke="#000" stroke-width="1.5"/>
<circle cx="1859.6" cy="161.5" r="4.3" fill="#fff" stroke="#000" stroke-width="1.5"/>
<circle cx="1869.8" cy="157.5" r="4.3" fill="#fff" stroke="#000" stroke-width="1.5"/>
<circle cx="1874.8" cy="161.5" r="4.3" fill="#fff" stroke="#000" stroke-width="1.5"/>
<circle cx="1877.3" cy="158.0" r="4.3" fill="#fff" stroke="#000" stroke-width="1.5"/>
<circle cx="1877.8" cy="164.0" r="4.3" fill="#fff" stroke="#000" stroke-width="1.5"/>
<circle cx="1891.3" cy="159.5" r="4.3" fill="#fff" stroke="#000" stroke-width="1.5"/>
<circle cx="1884.8" cy="168.0" r="4.3" fill="#fff" stroke="#000" stroke-width="1.5"/>
<circle cx="1842.9" cy="163.5" r="4.3" fill="#fff" stroke="#000" stroke-width="1.5"/>
<circle cx="1859.6" cy="169.0" r="4.3" fill="#fff" stroke="#000" stroke-width="1.5"/>
<circle cx="1855.8" cy="172.5" r="4.3" fill="#fff" stroke="#000" stroke-width="1.5"/>
<circle cx="1840.9" cy="171.0" r="4.3" fill="#fff" stroke="#000" stroke-width="1.5"/>
<circle cx="1845.9" cy="171.0" r="4.3" fill="#fff" stroke="#000" stroke-width="1.5"/>
<circle cx="1866.3" cy="174.0" r="4.3" fill="#fff" stroke="#000" stroke-width="1.5"/>
<circle cx="1872.3" cy="171.0" r="4.3" fill="#fff" stroke="#000" stroke-width="1.5"/>
<circle cx="1895.3" cy="174.0" r="4.3" fill="#fff" stroke="#000" stroke-width="1.5"/>
<circle cx="1872.3" cy="181.4" r="4.3" fill="#fff" stroke="#000" stroke-width="1.5"/>
<circle cx="1877.8" cy="180.4" r="4.3" fill="#fff" stroke="#000" stroke-width="1.5"/>
<circle cx="1823.7" cy="179.9" r="4.3" fill="#fff" stroke="#000" stroke-width="1.5"/>
<circle cx="1834.9" cy="178.9" r="4.3" fill="#fff" stroke="#000" stroke-width="1.5"/>
<circle cx="1812.9" cy="189.7" r="4.3" fill="#fff" stroke="#000" stroke-width="1.5"/>
<circle cx="1832.9" cy="191.9" r="4.3" fill="#fff" stroke="#000" stroke-width="1.5"/>
<circle cx="1839.7" cy="189.9" r="4.3" fill="#fff" stroke="#000" stroke-width="1.5"/>
<circle cx="1847.9" cy="194.4" r="4.3" fill="#fff" stroke="#000" stroke-width="1.5"/>
<circle cx="1850.8" cy="194.4" r="4.3" fill="#fff" stroke="#000" stroke-width="1.5"/>
<circle cx="1854.3" cy="195.4" r="4.3" fill="#fff" stroke="#000" stroke-width="1.5"/>
<circle cx="1813.9" cy="198.4" r="4.3" fill="#fff" stroke="#000" stroke-width="1.5"/>
<circle cx="1842.4" cy="200.6" r="4.3" fill="#fff" stroke="#000" stroke-width="1.5"/>
<circle cx="1817.9" cy="207.0" r="4.3" fill="#fff" stroke="#000" stroke-width="1.5"/>
<circle cx="1828.9" cy="213.0" r="4.3" fill="#fff" stroke="#000" stroke-width="1.5"/>
<circle cx="1826.9" cy="218.5" r="4.3" fill="#fff" stroke="#000" stroke-width="1.5"/>
<circle cx="1831.4" cy="217.5" r="4.3" fill="#fff" stroke="#000" stroke-width="1.5"/>
<circle cx="1800.4" cy="214.2" r="4.3" fill="#fff" stroke="#000" stroke-width="1.5"/>
<circle cx="1783.4" cy="227.0" r="4.3" fill="#fff" stroke="#000" stroke-width="1.5"/>
<circle cx="1801.1" cy="228.9" r="4.3" fill="#fff" stroke="#000" stroke-width="1.5"/>
<circle cx="1830.4" cy="226.2" r="4.3" fill="#fff" stroke="#000" stroke-width="1.5"/>
<circle cx="1823.7" cy="235.1" r="4.3" fill="#fff" stroke="#000" stroke-width="1.5"/>
<circle cx="1813.1" cy="238.4" r="4.3" fill="#fff" stroke="#000" stroke-width="1.5"/>
<circle cx="1806.4" cy="242.9" r="4.3" fill="#fff" stroke="#000" stroke-width="1.5"/>
<circle cx="1805.4" cy="254.0" r="4.3" fill="#fff" stroke="#000" stroke-width="1.5"/>
<path d="M1842.2 173.5h10.4l-5.2 10.2z" fill="#000"/>
<path d="M1881.6 154.5h10.4l-5.2 10.2z" fill="#000"/>
<path d="M1827.4 199.5h10.4l-5.2 10.2z" fill="#000"/>
<path d="M1848.1 199.5h10.4l-5.2 10.2z" fill="#000"/>
<circle cx="1891.3" cy="159.5" r="4.3" fill="#fff" stroke="#000" stroke-width="1.5"/>
<circle cx="1884.8" cy="168.0" r="4.3" fill="#fff" stroke="#000" stroke-width="1.5"/>
<path d="M1711.7 385.6h8.6l-4.3 -8.2z" fill="#fff" stroke="#000" stroke-width="1.4"/>
<rect x="1714.6" y="376.6" width="9.6" height="9.6" fill="#000"/>
<path d="M1715.9 385.6h8.6l-4.3 -8.2z" fill="#fff" stroke="#000" stroke-width="1.4"/>
<rect x="1718.8" y="376.6" width="9.6" height="9.6" fill="#000"/>
<path d="M1720.1 385.6h8.6l-4.3 -8.2z" fill="#fff" stroke="#000" stroke-width="1.4"/>
<rect x="1723.0" y="376.6" width="9.6" height="9.6" fill="#000"/>
<path d="M1724.3 385.6h8.6l-4.3 -8.2z" fill="#fff" stroke="#000" stroke-width="1.4"/>
<path d="M1728.5 385.6h8.6l-4.3 -8.2z" fill="#fff" stroke="#000" stroke-width="1.4"/>
<path d="M1732.7 385.6h8.6l-4.3 -8.2z" fill="#fff" stroke="#000" stroke-width="1.4"/>
<rect x="1735.6" y="376.6" width="9.6" height="9.6" fill="#000"/>
<path d="M1736.9 385.6h8.6l-4.3 -8.2z" fill="#fff" stroke="#000" stroke-width="1.4"/>
<rect x="1739.8" y="376.6" width="9.6" height="9.6" fill="#000"/>
<path d="M1741.1 385.6h8.6l-4.3 -8.2z" fill="#fff" stroke="#000" stroke-width="1.4"/>
<path d="M1745.3 385.6h8.6l-4.3 -8.2z" fill="#fff" stroke="#000" stroke-width="1.4"/>
<rect x="1748.2" y="376.6" width="9.6" height="9.6" fill="#000"/>
<path d="M1752.7 385.6h8.6l-4.3 -8.2z" fill="#fff" stroke="#000" stroke-width="1.4"/>
<path d="M1758.0 385.6h8.6l-4.3 -8.2z" fill="#fff" stroke="#000" stroke-width="1.4"/>
<path d="M1570.20 2.7V511.2H2047.90" fill="none" stroke="#000" stroke-width="2.1" stroke-linecap="square"/>
<line x1="1580.20" y1="511.20" x2="1580.20" y2="521.70" stroke="#000" stroke-width="2.0" />
<line x1="1570.20" y1="502.90" x2="1558.90" y2="502.90" stroke="#000" stroke-width="2.0" />
<text x="1580.50" y="552.50" text-anchor="middle" font-size="23.2" >0.01</text>
<text x="1551.30" y="511.70" text-anchor="end" font-size="23.2" >0.01</text>
<line x1="1614.20" y1="511.20" x2="1614.20" y2="517.80" stroke="#000" stroke-width="1.3" />
<line x1="1570.20" y1="465.99" x2="1564.80" y2="465.99" stroke="#000" stroke-width="1.3" />
<line x1="1634.09" y1="511.20" x2="1634.09" y2="517.80" stroke="#000" stroke-width="1.3" />
<line x1="1570.20" y1="444.40" x2="1564.80" y2="444.40" stroke="#000" stroke-width="1.3" />
<line x1="1648.20" y1="511.20" x2="1648.20" y2="517.80" stroke="#000" stroke-width="1.3" />
<line x1="1570.20" y1="429.09" x2="1564.80" y2="429.09" stroke="#000" stroke-width="1.3" />
<line x1="1659.15" y1="511.20" x2="1659.15" y2="517.80" stroke="#000" stroke-width="1.3" />
<line x1="1570.20" y1="417.21" x2="1564.80" y2="417.21" stroke="#000" stroke-width="1.3" />
<line x1="1668.09" y1="511.20" x2="1668.09" y2="517.80" stroke="#000" stroke-width="1.3" />
<line x1="1570.20" y1="407.50" x2="1564.80" y2="407.50" stroke="#000" stroke-width="1.3" />
<line x1="1675.65" y1="511.20" x2="1675.65" y2="517.80" stroke="#000" stroke-width="1.3" />
<line x1="1570.20" y1="399.29" x2="1564.80" y2="399.29" stroke="#000" stroke-width="1.3" />
<line x1="1682.20" y1="511.20" x2="1682.20" y2="517.80" stroke="#000" stroke-width="1.3" />
<line x1="1570.20" y1="392.18" x2="1564.80" y2="392.18" stroke="#000" stroke-width="1.3" />
<line x1="1687.98" y1="511.20" x2="1687.98" y2="517.80" stroke="#000" stroke-width="1.3" />
<line x1="1570.20" y1="385.91" x2="1564.80" y2="385.91" stroke="#000" stroke-width="1.3" />
<line x1="1693.15" y1="511.20" x2="1693.15" y2="521.70" stroke="#000" stroke-width="2.0" />
<line x1="1570.20" y1="380.30" x2="1558.90" y2="380.30" stroke="#000" stroke-width="2.0" />
<text x="1693.45" y="552.50" text-anchor="middle" font-size="23.2" >0.1</text>
<text x="1551.30" y="389.10" text-anchor="end" font-size="23.2" >0.1</text>
<line x1="1727.15" y1="511.20" x2="1727.15" y2="517.80" stroke="#000" stroke-width="1.3" />
<line x1="1570.20" y1="344.00" x2="1564.80" y2="344.00" stroke="#000" stroke-width="1.3" />
<line x1="1747.04" y1="511.20" x2="1747.04" y2="517.80" stroke="#000" stroke-width="1.3" />
<line x1="1570.20" y1="322.76" x2="1564.80" y2="322.76" stroke="#000" stroke-width="1.3" />
<line x1="1761.15" y1="511.20" x2="1761.15" y2="517.80" stroke="#000" stroke-width="1.3" />
<line x1="1570.20" y1="307.69" x2="1564.80" y2="307.69" stroke="#000" stroke-width="1.3" />
<line x1="1772.10" y1="511.20" x2="1772.10" y2="517.80" stroke="#000" stroke-width="1.3" />
<line x1="1570.20" y1="296.00" x2="1564.80" y2="296.00" stroke="#000" stroke-width="1.3" />
<line x1="1781.04" y1="511.20" x2="1781.04" y2="517.80" stroke="#000" stroke-width="1.3" />
<line x1="1570.20" y1="286.45" x2="1564.80" y2="286.45" stroke="#000" stroke-width="1.3" />
<line x1="1788.60" y1="511.20" x2="1788.60" y2="517.80" stroke="#000" stroke-width="1.3" />
<line x1="1570.20" y1="278.38" x2="1564.80" y2="278.38" stroke="#000" stroke-width="1.3" />
<line x1="1795.15" y1="511.20" x2="1795.15" y2="517.80" stroke="#000" stroke-width="1.3" />
<line x1="1570.20" y1="271.39" x2="1564.80" y2="271.39" stroke="#000" stroke-width="1.3" />
<line x1="1800.93" y1="511.20" x2="1800.93" y2="517.80" stroke="#000" stroke-width="1.3" />
<line x1="1570.20" y1="265.22" x2="1564.80" y2="265.22" stroke="#000" stroke-width="1.3" />
<line x1="1806.10" y1="511.20" x2="1806.10" y2="521.70" stroke="#000" stroke-width="2.0" />
<line x1="1570.20" y1="259.70" x2="1558.90" y2="259.70" stroke="#000" stroke-width="2.0" />
<text x="1806.40" y="552.50" text-anchor="middle" font-size="23.2" >1</text>
<text x="1551.30" y="268.50" text-anchor="end" font-size="23.2" >1</text>
<line x1="1840.10" y1="511.20" x2="1840.10" y2="517.80" stroke="#000" stroke-width="1.3" />
<line x1="1570.20" y1="223.09" x2="1564.80" y2="223.09" stroke="#000" stroke-width="1.3" />
<line x1="1859.99" y1="511.20" x2="1859.99" y2="517.80" stroke="#000" stroke-width="1.3" />
<line x1="1570.20" y1="201.68" x2="1564.80" y2="201.68" stroke="#000" stroke-width="1.3" />
<line x1="1874.10" y1="511.20" x2="1874.10" y2="517.80" stroke="#000" stroke-width="1.3" />
<line x1="1570.20" y1="186.49" x2="1564.80" y2="186.49" stroke="#000" stroke-width="1.3" />
<line x1="1885.05" y1="511.20" x2="1885.05" y2="517.80" stroke="#000" stroke-width="1.3" />
<line x1="1570.20" y1="174.71" x2="1564.80" y2="174.71" stroke="#000" stroke-width="1.3" />
<line x1="1893.99" y1="511.20" x2="1893.99" y2="517.80" stroke="#000" stroke-width="1.3" />
<line x1="1570.20" y1="165.08" x2="1564.80" y2="165.08" stroke="#000" stroke-width="1.3" />
<line x1="1901.55" y1="511.20" x2="1901.55" y2="517.80" stroke="#000" stroke-width="1.3" />
<line x1="1570.20" y1="156.94" x2="1564.80" y2="156.94" stroke="#000" stroke-width="1.3" />
<line x1="1908.10" y1="511.20" x2="1908.10" y2="517.80" stroke="#000" stroke-width="1.3" />
<line x1="1570.20" y1="149.88" x2="1564.80" y2="149.88" stroke="#000" stroke-width="1.3" />
<line x1="1913.88" y1="511.20" x2="1913.88" y2="517.80" stroke="#000" stroke-width="1.3" />
<line x1="1570.20" y1="143.66" x2="1564.80" y2="143.66" stroke="#000" stroke-width="1.3" />
<line x1="1919.05" y1="511.20" x2="1919.05" y2="521.70" stroke="#000" stroke-width="2.0" />
<line x1="1570.20" y1="138.10" x2="1558.90" y2="138.10" stroke="#000" stroke-width="2.0" />
<text x="1919.35" y="552.50" text-anchor="middle" font-size="23.2" >10</text>
<text x="1551.30" y="146.90" text-anchor="end" font-size="23.2" >10</text>
<line x1="1953.05" y1="511.20" x2="1953.05" y2="517.80" stroke="#000" stroke-width="1.3" />
<line x1="1570.20" y1="101.83" x2="1564.80" y2="101.83" stroke="#000" stroke-width="1.3" />
<line x1="1972.94" y1="511.20" x2="1972.94" y2="517.80" stroke="#000" stroke-width="1.3" />
<line x1="1570.20" y1="80.61" x2="1564.80" y2="80.61" stroke="#000" stroke-width="1.3" />
<line x1="1987.05" y1="511.20" x2="1987.05" y2="517.80" stroke="#000" stroke-width="1.3" />
<line x1="1570.20" y1="65.55" x2="1564.80" y2="65.55" stroke="#000" stroke-width="1.3" />
<line x1="1998.00" y1="511.20" x2="1998.00" y2="517.80" stroke="#000" stroke-width="1.3" />
<line x1="1570.20" y1="53.87" x2="1564.80" y2="53.87" stroke="#000" stroke-width="1.3" />
<line x1="2006.94" y1="511.20" x2="2006.94" y2="517.80" stroke="#000" stroke-width="1.3" />
<line x1="1570.20" y1="44.33" x2="1564.80" y2="44.33" stroke="#000" stroke-width="1.3" />
<line x1="2014.50" y1="511.20" x2="2014.50" y2="517.80" stroke="#000" stroke-width="1.3" />
<line x1="1570.20" y1="36.27" x2="1564.80" y2="36.27" stroke="#000" stroke-width="1.3" />
<line x1="2021.05" y1="511.20" x2="2021.05" y2="517.80" stroke="#000" stroke-width="1.3" />
<line x1="1570.20" y1="29.28" x2="1564.80" y2="29.28" stroke="#000" stroke-width="1.3" />
<line x1="2026.83" y1="511.20" x2="2026.83" y2="517.80" stroke="#000" stroke-width="1.3" />
<line x1="1570.20" y1="23.11" x2="1564.80" y2="23.11" stroke="#000" stroke-width="1.3" />
<line x1="2032.00" y1="511.20" x2="2032.00" y2="521.70" stroke="#000" stroke-width="2.0" />
<line x1="1570.20" y1="17.60" x2="1558.90" y2="17.60" stroke="#000" stroke-width="2.0" />
<text x="2032.30" y="552.50" text-anchor="middle" font-size="23.2" >100</text>
<text x="1551.30" y="26.40" text-anchor="end" font-size="23.2" >100</text>
<text transform="translate(1812.00 587.0) scale(1.007 1)" text-anchor="middle" font-size="23.2">M22-based 3rd TRAb ELISA (IU/L)</text>
<text transform="translate(1485.5 257.4) rotate(-90) scale(1.008 1.045)" text-anchor="middle" font-size="23.2">TSH-based 2nd TRAb ELISA (IU/L)</text>
<text x="1582.30" y="52.20" text-anchor="start" font-size="21" >y = 0.07 + 0.51 x</text>
<ellipse cx="1879.6" cy="366.5" rx="4.4" ry="4.2" fill="#fff" stroke="#000" stroke-width="1.6"/>
<text transform="translate(1900.20 374.40) scale(1 1.05)" font-size="23.2">GD</text>
<path d="M1874.4 389.9h10.4l-5.2 10.2z" fill="#000"/>
<text transform="translate(1900.20 402.85) scale(1 1.05)" font-size="23.2">HT</text>
<path d="M1875.3 427.6h8.6l-4.3 -8.2z" fill="#fff" stroke="#000" stroke-width="1.4"/>
<text transform="translate(1900.20 431.30) scale(1 1.05)" font-size="23.2">NAITD</text>
<path d="M1874.4 456.9h10.4l-5.2 -10.2z" fill="#000"/>
<text transform="translate(1900.20 459.75) scale(1 1.05)" font-size="23.2">RA</text>
<rect x="1874.8" y="475.5" width="9.6" height="9.6" fill="#000"/>
<text transform="translate(1900.20 488.20) scale(1 1.05)" font-size="23.2">HS</text>
</g>
</svg>
</body></html>
